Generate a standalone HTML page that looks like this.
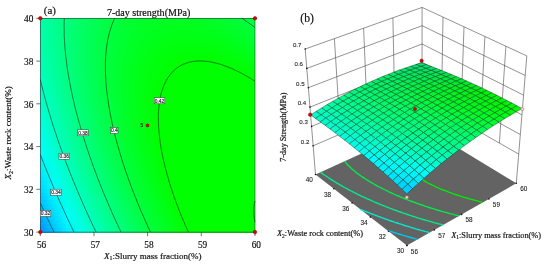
<!DOCTYPE html>
<html><head><meta charset="utf-8"><title>7-day strength response surface</title>
<style>
html,body{margin:0;padding:0;background:#fff;}
body{width:550px;height:269px;overflow:hidden;}
svg{display:block;}
.s{font-family:"Liberation Serif","Times New Roman",serif;fill:#111;stroke:#111;stroke-width:0.18px;}
.a{font-family:"Liberation Sans",Arial,sans-serif;}
</style></head><body>
<svg width="550" height="269" viewBox="0 0 550 269">
<rect width="550" height="269" fill="#fff"/>
<defs>
<linearGradient id="g0" x1="0" x2="1" y1="0" y2="0"><stop offset="0.0000" stop-color="#00ffab"/><stop offset="0.0625" stop-color="#00ff92"/><stop offset="0.1250" stop-color="#00ff7b"/><stop offset="0.1875" stop-color="#00ff67"/><stop offset="0.2500" stop-color="#00ff55"/><stop offset="0.3125" stop-color="#00ff46"/><stop offset="0.3750" stop-color="#00ff39"/><stop offset="0.4375" stop-color="#00ff30"/><stop offset="0.5000" stop-color="#00ff28"/><stop offset="0.5625" stop-color="#00ff23"/><stop offset="0.6250" stop-color="#00ff21"/><stop offset="0.6875" stop-color="#00ff22"/><stop offset="0.7500" stop-color="#00ff25"/><stop offset="0.8125" stop-color="#00ff2a"/><stop offset="0.8750" stop-color="#00ff32"/><stop offset="0.9375" stop-color="#00ff3d"/><stop offset="1.0000" stop-color="#00ff4a"/></linearGradient>
<linearGradient id="g1" x1="0" x2="1" y1="0" y2="0"><stop offset="0.0000" stop-color="#00ffab"/><stop offset="0.0625" stop-color="#00ff92"/><stop offset="0.1250" stop-color="#00ff7b"/><stop offset="0.1875" stop-color="#00ff66"/><stop offset="0.2500" stop-color="#00ff54"/><stop offset="0.3125" stop-color="#00ff45"/><stop offset="0.3750" stop-color="#00ff38"/><stop offset="0.4375" stop-color="#00ff2d"/><stop offset="0.5000" stop-color="#00ff26"/><stop offset="0.5625" stop-color="#00ff21"/><stop offset="0.6250" stop-color="#00ff1e"/><stop offset="0.6875" stop-color="#00ff1e"/><stop offset="0.7500" stop-color="#00ff20"/><stop offset="0.8125" stop-color="#00ff26"/><stop offset="0.8750" stop-color="#00ff2d"/><stop offset="0.9375" stop-color="#00ff38"/><stop offset="1.0000" stop-color="#00ff44"/></linearGradient>
<linearGradient id="g2" x1="0" x2="1" y1="0" y2="0"><stop offset="0.0000" stop-color="#00ffac"/><stop offset="0.0625" stop-color="#00ff92"/><stop offset="0.1250" stop-color="#00ff7a"/><stop offset="0.1875" stop-color="#00ff65"/><stop offset="0.2500" stop-color="#00ff53"/><stop offset="0.3125" stop-color="#00ff43"/><stop offset="0.3750" stop-color="#00ff36"/><stop offset="0.4375" stop-color="#00ff2b"/><stop offset="0.5000" stop-color="#00ff23"/><stop offset="0.5625" stop-color="#00ff1e"/><stop offset="0.6250" stop-color="#00ff1b"/><stop offset="0.6875" stop-color="#00ff1a"/><stop offset="0.7500" stop-color="#00ff1c"/><stop offset="0.8125" stop-color="#00ff21"/><stop offset="0.8750" stop-color="#00ff28"/><stop offset="0.9375" stop-color="#00ff32"/><stop offset="1.0000" stop-color="#00ff3f"/></linearGradient>
<linearGradient id="g3" x1="0" x2="1" y1="0" y2="0"><stop offset="0.0000" stop-color="#00ffad"/><stop offset="0.0625" stop-color="#00ff92"/><stop offset="0.1250" stop-color="#00ff7a"/><stop offset="0.1875" stop-color="#00ff65"/><stop offset="0.2500" stop-color="#00ff52"/><stop offset="0.3125" stop-color="#00ff42"/><stop offset="0.3750" stop-color="#00ff34"/><stop offset="0.4375" stop-color="#00ff29"/><stop offset="0.5000" stop-color="#00ff21"/><stop offset="0.5625" stop-color="#00ff1b"/><stop offset="0.6250" stop-color="#00ff18"/><stop offset="0.6875" stop-color="#00ff17"/><stop offset="0.7500" stop-color="#00ff19"/><stop offset="0.8125" stop-color="#00ff1d"/><stop offset="0.8750" stop-color="#00ff24"/><stop offset="0.9375" stop-color="#00ff2d"/><stop offset="1.0000" stop-color="#00ff39"/></linearGradient>
<linearGradient id="g4" x1="0" x2="1" y1="0" y2="0"><stop offset="0.0000" stop-color="#00ffae"/><stop offset="0.0625" stop-color="#00ff93"/><stop offset="0.1250" stop-color="#00ff7b"/><stop offset="0.1875" stop-color="#00ff65"/><stop offset="0.2500" stop-color="#00ff52"/><stop offset="0.3125" stop-color="#00ff41"/><stop offset="0.3750" stop-color="#00ff33"/><stop offset="0.4375" stop-color="#00ff28"/><stop offset="0.5000" stop-color="#00ff1f"/><stop offset="0.5625" stop-color="#00ff18"/><stop offset="0.6250" stop-color="#00ff15"/><stop offset="0.6875" stop-color="#00ff13"/><stop offset="0.7500" stop-color="#00ff15"/><stop offset="0.8125" stop-color="#00ff19"/><stop offset="0.8750" stop-color="#00ff1f"/><stop offset="0.9375" stop-color="#00ff28"/><stop offset="1.0000" stop-color="#00ff34"/></linearGradient>
<linearGradient id="g5" x1="0" x2="1" y1="0" y2="0"><stop offset="0.0000" stop-color="#00ffaf"/><stop offset="0.0625" stop-color="#00ff93"/><stop offset="0.1250" stop-color="#00ff7b"/><stop offset="0.1875" stop-color="#00ff65"/><stop offset="0.2500" stop-color="#00ff51"/><stop offset="0.3125" stop-color="#00ff40"/><stop offset="0.3750" stop-color="#00ff32"/><stop offset="0.4375" stop-color="#00ff26"/><stop offset="0.5000" stop-color="#00ff1d"/><stop offset="0.5625" stop-color="#00ff16"/><stop offset="0.6250" stop-color="#00ff12"/><stop offset="0.6875" stop-color="#00ff10"/><stop offset="0.7500" stop-color="#00ff11"/><stop offset="0.8125" stop-color="#00ff15"/><stop offset="0.8750" stop-color="#00ff1b"/><stop offset="0.9375" stop-color="#00ff24"/><stop offset="1.0000" stop-color="#00ff2f"/></linearGradient>
<linearGradient id="g6" x1="0" x2="1" y1="0" y2="0"><stop offset="0.0000" stop-color="#00ffb0"/><stop offset="0.0625" stop-color="#00ff94"/><stop offset="0.1250" stop-color="#00ff7b"/><stop offset="0.1875" stop-color="#00ff65"/><stop offset="0.2500" stop-color="#00ff51"/><stop offset="0.3125" stop-color="#00ff3f"/><stop offset="0.3750" stop-color="#00ff31"/><stop offset="0.4375" stop-color="#00ff24"/><stop offset="0.5000" stop-color="#00ff1b"/><stop offset="0.5625" stop-color="#00ff14"/><stop offset="0.6250" stop-color="#00ff0f"/><stop offset="0.6875" stop-color="#00ff0d"/><stop offset="0.7500" stop-color="#00ff0e"/><stop offset="0.8125" stop-color="#00ff11"/><stop offset="0.8750" stop-color="#00ff17"/><stop offset="0.9375" stop-color="#00ff1f"/><stop offset="1.0000" stop-color="#00ff2a"/></linearGradient>
<linearGradient id="g7" x1="0" x2="1" y1="0" y2="0"><stop offset="0.0000" stop-color="#00ffb1"/><stop offset="0.0625" stop-color="#00ff95"/><stop offset="0.1250" stop-color="#00ff7c"/><stop offset="0.1875" stop-color="#00ff65"/><stop offset="0.2500" stop-color="#00ff50"/><stop offset="0.3125" stop-color="#00ff3f"/><stop offset="0.3750" stop-color="#00ff2f"/><stop offset="0.4375" stop-color="#00ff23"/><stop offset="0.5000" stop-color="#00ff19"/><stop offset="0.5625" stop-color="#00ff11"/><stop offset="0.6250" stop-color="#00ff0c"/><stop offset="0.6875" stop-color="#00ff0a"/><stop offset="0.7500" stop-color="#00ff0a"/><stop offset="0.8125" stop-color="#00ff0d"/><stop offset="0.8750" stop-color="#00ff12"/><stop offset="0.9375" stop-color="#00ff1a"/><stop offset="1.0000" stop-color="#00ff25"/></linearGradient>
<linearGradient id="g8" x1="0" x2="1" y1="0" y2="0"><stop offset="0.0000" stop-color="#00ffb2"/><stop offset="0.0625" stop-color="#00ff96"/><stop offset="0.1250" stop-color="#00ff7c"/><stop offset="0.1875" stop-color="#00ff65"/><stop offset="0.2500" stop-color="#00ff50"/><stop offset="0.3125" stop-color="#00ff3e"/><stop offset="0.3750" stop-color="#00ff2f"/><stop offset="0.4375" stop-color="#00ff22"/><stop offset="0.5000" stop-color="#00ff17"/><stop offset="0.5625" stop-color="#00ff0f"/><stop offset="0.6250" stop-color="#00ff0a"/><stop offset="0.6875" stop-color="#00ff07"/><stop offset="0.7500" stop-color="#00ff07"/><stop offset="0.8125" stop-color="#00ff09"/><stop offset="0.8750" stop-color="#00ff0e"/><stop offset="0.9375" stop-color="#00ff16"/><stop offset="1.0000" stop-color="#00ff20"/></linearGradient>
<linearGradient id="g9" x1="0" x2="1" y1="0" y2="0"><stop offset="0.0000" stop-color="#00ffb4"/><stop offset="0.0625" stop-color="#00ff97"/><stop offset="0.1250" stop-color="#00ff7d"/><stop offset="0.1875" stop-color="#00ff65"/><stop offset="0.2500" stop-color="#00ff50"/><stop offset="0.3125" stop-color="#00ff3e"/><stop offset="0.3750" stop-color="#00ff2e"/><stop offset="0.4375" stop-color="#00ff20"/><stop offset="0.5000" stop-color="#00ff15"/><stop offset="0.5625" stop-color="#00ff0d"/><stop offset="0.6250" stop-color="#00ff08"/><stop offset="0.6875" stop-color="#00ff04"/><stop offset="0.7500" stop-color="#00ff04"/><stop offset="0.8125" stop-color="#00ff06"/><stop offset="0.8750" stop-color="#00ff0a"/><stop offset="0.9375" stop-color="#00ff12"/><stop offset="1.0000" stop-color="#00ff1b"/></linearGradient>
<linearGradient id="g10" x1="0" x2="1" y1="0" y2="0"><stop offset="0.0000" stop-color="#00ffb6"/><stop offset="0.0625" stop-color="#00ff98"/><stop offset="0.1250" stop-color="#00ff7e"/><stop offset="0.1875" stop-color="#00ff66"/><stop offset="0.2500" stop-color="#00ff50"/><stop offset="0.3125" stop-color="#00ff3d"/><stop offset="0.3750" stop-color="#00ff2d"/><stop offset="0.4375" stop-color="#00ff1f"/><stop offset="0.5000" stop-color="#00ff14"/><stop offset="0.5625" stop-color="#00ff0b"/><stop offset="0.6250" stop-color="#00ff05"/><stop offset="0.6875" stop-color="#00ff02"/><stop offset="0.7500" stop-color="#00ff01"/><stop offset="0.8125" stop-color="#00ff02"/><stop offset="0.8750" stop-color="#00ff07"/><stop offset="0.9375" stop-color="#00ff0d"/><stop offset="1.0000" stop-color="#00ff17"/></linearGradient>
<linearGradient id="g11" x1="0" x2="1" y1="0" y2="0"><stop offset="0.0000" stop-color="#00ffb7"/><stop offset="0.0625" stop-color="#00ff9a"/><stop offset="0.1250" stop-color="#00ff7f"/><stop offset="0.1875" stop-color="#00ff66"/><stop offset="0.2500" stop-color="#00ff50"/><stop offset="0.3125" stop-color="#00ff3d"/><stop offset="0.3750" stop-color="#00ff2c"/><stop offset="0.4375" stop-color="#00ff1e"/><stop offset="0.5000" stop-color="#00ff13"/><stop offset="0.5625" stop-color="#00ff0a"/><stop offset="0.6250" stop-color="#00ff03"/><stop offset="0.6875" stop-color="#00ff00"/><stop offset="0.7500" stop-color="#00ff00"/><stop offset="0.8125" stop-color="#00ff00"/><stop offset="0.8750" stop-color="#00ff03"/><stop offset="0.9375" stop-color="#00ff09"/><stop offset="1.0000" stop-color="#00ff12"/></linearGradient>
<linearGradient id="g12" x1="0" x2="1" y1="0" y2="0"><stop offset="0.0000" stop-color="#00ffb9"/><stop offset="0.0625" stop-color="#00ff9b"/><stop offset="0.1250" stop-color="#00ff80"/><stop offset="0.1875" stop-color="#00ff67"/><stop offset="0.2500" stop-color="#00ff51"/><stop offset="0.3125" stop-color="#00ff3d"/><stop offset="0.3750" stop-color="#00ff2c"/><stop offset="0.4375" stop-color="#00ff1d"/><stop offset="0.5000" stop-color="#00ff11"/><stop offset="0.5625" stop-color="#00ff08"/><stop offset="0.6250" stop-color="#00ff01"/><stop offset="0.6875" stop-color="#00ff00"/><stop offset="0.7500" stop-color="#00ff00"/><stop offset="0.8125" stop-color="#00ff00"/><stop offset="0.8750" stop-color="#00ff00"/><stop offset="0.9375" stop-color="#00ff05"/><stop offset="1.0000" stop-color="#00ff0e"/></linearGradient>
<linearGradient id="g13" x1="0" x2="1" y1="0" y2="0"><stop offset="0.0000" stop-color="#00ffbb"/><stop offset="0.0625" stop-color="#00ff9d"/><stop offset="0.1250" stop-color="#00ff81"/><stop offset="0.1875" stop-color="#00ff68"/><stop offset="0.2500" stop-color="#00ff51"/><stop offset="0.3125" stop-color="#00ff3d"/><stop offset="0.3750" stop-color="#00ff2c"/><stop offset="0.4375" stop-color="#00ff1d"/><stop offset="0.5000" stop-color="#00ff10"/><stop offset="0.5625" stop-color="#00ff06"/><stop offset="0.6250" stop-color="#00ff00"/><stop offset="0.6875" stop-color="#00ff00"/><stop offset="0.7500" stop-color="#00ff00"/><stop offset="0.8125" stop-color="#00ff00"/><stop offset="0.8750" stop-color="#00ff00"/><stop offset="0.9375" stop-color="#00ff02"/><stop offset="1.0000" stop-color="#00ff0a"/></linearGradient>
<linearGradient id="g14" x1="0" x2="1" y1="0" y2="0"><stop offset="0.0000" stop-color="#00ffbd"/><stop offset="0.0625" stop-color="#00ff9e"/><stop offset="0.1250" stop-color="#00ff82"/><stop offset="0.1875" stop-color="#00ff69"/><stop offset="0.2500" stop-color="#00ff52"/><stop offset="0.3125" stop-color="#00ff3d"/><stop offset="0.3750" stop-color="#00ff2b"/><stop offset="0.4375" stop-color="#00ff1c"/><stop offset="0.5000" stop-color="#00ff0f"/><stop offset="0.5625" stop-color="#00ff05"/><stop offset="0.6250" stop-color="#00ff00"/><stop offset="0.6875" stop-color="#00ff00"/><stop offset="0.7500" stop-color="#00ff00"/><stop offset="0.8125" stop-color="#00ff00"/><stop offset="0.8750" stop-color="#00ff00"/><stop offset="0.9375" stop-color="#00ff00"/><stop offset="1.0000" stop-color="#00ff06"/></linearGradient>
<linearGradient id="g15" x1="0" x2="1" y1="0" y2="0"><stop offset="0.0000" stop-color="#00ffbf"/><stop offset="0.0625" stop-color="#00ffa0"/><stop offset="0.1250" stop-color="#00ff84"/><stop offset="0.1875" stop-color="#00ff6a"/><stop offset="0.2500" stop-color="#00ff52"/><stop offset="0.3125" stop-color="#00ff3d"/><stop offset="0.3750" stop-color="#00ff2b"/><stop offset="0.4375" stop-color="#00ff1b"/><stop offset="0.5000" stop-color="#00ff0e"/><stop offset="0.5625" stop-color="#00ff04"/><stop offset="0.6250" stop-color="#00ff00"/><stop offset="0.6875" stop-color="#00ff00"/><stop offset="0.7500" stop-color="#00ff00"/><stop offset="0.8125" stop-color="#00ff00"/><stop offset="0.8750" stop-color="#00ff00"/><stop offset="0.9375" stop-color="#00ff00"/><stop offset="1.0000" stop-color="#00ff02"/></linearGradient>
<linearGradient id="g16" x1="0" x2="1" y1="0" y2="0"><stop offset="0.0000" stop-color="#00ffc2"/><stop offset="0.0625" stop-color="#00ffa2"/><stop offset="0.1250" stop-color="#00ff85"/><stop offset="0.1875" stop-color="#00ff6b"/><stop offset="0.2500" stop-color="#00ff53"/><stop offset="0.3125" stop-color="#00ff3e"/><stop offset="0.3750" stop-color="#00ff2b"/><stop offset="0.4375" stop-color="#00ff1b"/><stop offset="0.5000" stop-color="#00ff0d"/><stop offset="0.5625" stop-color="#00ff03"/><stop offset="0.6250" stop-color="#00ff00"/><stop offset="0.6875" stop-color="#00ff00"/><stop offset="0.7500" stop-color="#00ff00"/><stop offset="0.8125" stop-color="#00ff00"/><stop offset="0.8750" stop-color="#00ff00"/><stop offset="0.9375" stop-color="#00ff00"/><stop offset="1.0000" stop-color="#00ff00"/></linearGradient>
<linearGradient id="g17" x1="0" x2="1" y1="0" y2="0"><stop offset="0.0000" stop-color="#00ffc4"/><stop offset="0.0625" stop-color="#00ffa4"/><stop offset="0.1250" stop-color="#00ff87"/><stop offset="0.1875" stop-color="#00ff6c"/><stop offset="0.2500" stop-color="#00ff54"/><stop offset="0.3125" stop-color="#00ff3e"/><stop offset="0.3750" stop-color="#00ff2b"/><stop offset="0.4375" stop-color="#00ff1b"/><stop offset="0.5000" stop-color="#00ff0d"/><stop offset="0.5625" stop-color="#00ff01"/><stop offset="0.6250" stop-color="#00ff00"/><stop offset="0.6875" stop-color="#00ff00"/><stop offset="0.7500" stop-color="#00ff00"/><stop offset="0.8125" stop-color="#00ff00"/><stop offset="0.8750" stop-color="#00ff00"/><stop offset="0.9375" stop-color="#00ff00"/><stop offset="1.0000" stop-color="#00ff00"/></linearGradient>
<linearGradient id="g18" x1="0" x2="1" y1="0" y2="0"><stop offset="0.0000" stop-color="#00ffc7"/><stop offset="0.0625" stop-color="#00ffa6"/><stop offset="0.1250" stop-color="#00ff89"/><stop offset="0.1875" stop-color="#00ff6d"/><stop offset="0.2500" stop-color="#00ff55"/><stop offset="0.3125" stop-color="#00ff3f"/><stop offset="0.3750" stop-color="#00ff2b"/><stop offset="0.4375" stop-color="#00ff1b"/><stop offset="0.5000" stop-color="#00ff0c"/><stop offset="0.5625" stop-color="#00ff01"/><stop offset="0.6250" stop-color="#00ff00"/><stop offset="0.6875" stop-color="#00ff00"/><stop offset="0.7500" stop-color="#00ff00"/><stop offset="0.8125" stop-color="#00ff00"/><stop offset="0.8750" stop-color="#00ff00"/><stop offset="0.9375" stop-color="#00ff00"/><stop offset="1.0000" stop-color="#00ff00"/></linearGradient>
<linearGradient id="g19" x1="0" x2="1" y1="0" y2="0"><stop offset="0.0000" stop-color="#00ffc9"/><stop offset="0.0625" stop-color="#00ffa9"/><stop offset="0.1250" stop-color="#00ff8b"/><stop offset="0.1875" stop-color="#00ff6f"/><stop offset="0.2500" stop-color="#00ff56"/><stop offset="0.3125" stop-color="#00ff40"/><stop offset="0.3750" stop-color="#00ff2c"/><stop offset="0.4375" stop-color="#00ff1b"/><stop offset="0.5000" stop-color="#00ff0c"/><stop offset="0.5625" stop-color="#00ff00"/><stop offset="0.6250" stop-color="#00ff00"/><stop offset="0.6875" stop-color="#00ff00"/><stop offset="0.7500" stop-color="#00ff00"/><stop offset="0.8125" stop-color="#00ff00"/><stop offset="0.8750" stop-color="#00ff00"/><stop offset="0.9375" stop-color="#00ff00"/><stop offset="1.0000" stop-color="#00ff00"/></linearGradient>
<linearGradient id="g20" x1="0" x2="1" y1="0" y2="0"><stop offset="0.0000" stop-color="#00ffcc"/><stop offset="0.0625" stop-color="#00ffab"/><stop offset="0.1250" stop-color="#00ff8d"/><stop offset="0.1875" stop-color="#00ff71"/><stop offset="0.2500" stop-color="#00ff57"/><stop offset="0.3125" stop-color="#00ff40"/><stop offset="0.3750" stop-color="#00ff2c"/><stop offset="0.4375" stop-color="#00ff1b"/><stop offset="0.5000" stop-color="#00ff0c"/><stop offset="0.5625" stop-color="#00ff00"/><stop offset="0.6250" stop-color="#00ff00"/><stop offset="0.6875" stop-color="#00ff00"/><stop offset="0.7500" stop-color="#00ff00"/><stop offset="0.8125" stop-color="#00ff00"/><stop offset="0.8750" stop-color="#00ff00"/><stop offset="0.9375" stop-color="#00ff00"/><stop offset="1.0000" stop-color="#00ff00"/></linearGradient>
<linearGradient id="g21" x1="0" x2="1" y1="0" y2="0"><stop offset="0.0000" stop-color="#00ffcf"/><stop offset="0.0625" stop-color="#00ffae"/><stop offset="0.1250" stop-color="#00ff8f"/><stop offset="0.1875" stop-color="#00ff72"/><stop offset="0.2500" stop-color="#00ff59"/><stop offset="0.3125" stop-color="#00ff41"/><stop offset="0.3750" stop-color="#00ff2d"/><stop offset="0.4375" stop-color="#00ff1b"/><stop offset="0.5000" stop-color="#00ff0b"/><stop offset="0.5625" stop-color="#00ff00"/><stop offset="0.6250" stop-color="#00ff00"/><stop offset="0.6875" stop-color="#00ff00"/><stop offset="0.7500" stop-color="#00ff00"/><stop offset="0.8125" stop-color="#00ff00"/><stop offset="0.8750" stop-color="#00ff00"/><stop offset="0.9375" stop-color="#00ff00"/><stop offset="1.0000" stop-color="#00ff00"/></linearGradient>
<linearGradient id="g22" x1="0" x2="1" y1="0" y2="0"><stop offset="0.0000" stop-color="#00ffd2"/><stop offset="0.0625" stop-color="#00ffb0"/><stop offset="0.1250" stop-color="#00ff91"/><stop offset="0.1875" stop-color="#00ff74"/><stop offset="0.2500" stop-color="#00ff5a"/><stop offset="0.3125" stop-color="#00ff43"/><stop offset="0.3750" stop-color="#00ff2e"/><stop offset="0.4375" stop-color="#00ff1b"/><stop offset="0.5000" stop-color="#00ff0b"/><stop offset="0.5625" stop-color="#00ff00"/><stop offset="0.6250" stop-color="#00ff00"/><stop offset="0.6875" stop-color="#00ff00"/><stop offset="0.7500" stop-color="#00ff00"/><stop offset="0.8125" stop-color="#00ff00"/><stop offset="0.8750" stop-color="#00ff00"/><stop offset="0.9375" stop-color="#00ff00"/><stop offset="1.0000" stop-color="#00ff00"/></linearGradient>
<linearGradient id="g23" x1="0" x2="1" y1="0" y2="0"><stop offset="0.0000" stop-color="#00ffd5"/><stop offset="0.0625" stop-color="#00ffb3"/><stop offset="0.1250" stop-color="#00ff93"/><stop offset="0.1875" stop-color="#00ff76"/><stop offset="0.2500" stop-color="#00ff5c"/><stop offset="0.3125" stop-color="#00ff44"/><stop offset="0.3750" stop-color="#00ff2e"/><stop offset="0.4375" stop-color="#00ff1c"/><stop offset="0.5000" stop-color="#00ff0b"/><stop offset="0.5625" stop-color="#00ff00"/><stop offset="0.6250" stop-color="#00ff00"/><stop offset="0.6875" stop-color="#00ff00"/><stop offset="0.7500" stop-color="#00ff00"/><stop offset="0.8125" stop-color="#00ff00"/><stop offset="0.8750" stop-color="#00ff00"/><stop offset="0.9375" stop-color="#00ff00"/><stop offset="1.0000" stop-color="#00ff00"/></linearGradient>
<linearGradient id="g24" x1="0" x2="1" y1="0" y2="0"><stop offset="0.0000" stop-color="#00ffd8"/><stop offset="0.0625" stop-color="#00ffb6"/><stop offset="0.1250" stop-color="#00ff96"/><stop offset="0.1875" stop-color="#00ff78"/><stop offset="0.2500" stop-color="#00ff5d"/><stop offset="0.3125" stop-color="#00ff45"/><stop offset="0.3750" stop-color="#00ff2f"/><stop offset="0.4375" stop-color="#00ff1c"/><stop offset="0.5000" stop-color="#00ff0b"/><stop offset="0.5625" stop-color="#00ff00"/><stop offset="0.6250" stop-color="#00ff00"/><stop offset="0.6875" stop-color="#00ff00"/><stop offset="0.7500" stop-color="#00ff00"/><stop offset="0.8125" stop-color="#00ff00"/><stop offset="0.8750" stop-color="#00ff00"/><stop offset="0.9375" stop-color="#00ff00"/><stop offset="1.0000" stop-color="#00ff00"/></linearGradient>
<linearGradient id="g25" x1="0" x2="1" y1="0" y2="0"><stop offset="0.0000" stop-color="#00ffdc"/><stop offset="0.0625" stop-color="#00ffb9"/><stop offset="0.1250" stop-color="#00ff98"/><stop offset="0.1875" stop-color="#00ff7a"/><stop offset="0.2500" stop-color="#00ff5f"/><stop offset="0.3125" stop-color="#00ff46"/><stop offset="0.3750" stop-color="#00ff30"/><stop offset="0.4375" stop-color="#00ff1d"/><stop offset="0.5000" stop-color="#00ff0c"/><stop offset="0.5625" stop-color="#00ff00"/><stop offset="0.6250" stop-color="#00ff00"/><stop offset="0.6875" stop-color="#00ff00"/><stop offset="0.7500" stop-color="#00ff00"/><stop offset="0.8125" stop-color="#00ff00"/><stop offset="0.8750" stop-color="#00ff00"/><stop offset="0.9375" stop-color="#00ff00"/><stop offset="1.0000" stop-color="#00ff00"/></linearGradient>
<linearGradient id="g26" x1="0" x2="1" y1="0" y2="0"><stop offset="0.0000" stop-color="#00ffdf"/><stop offset="0.0625" stop-color="#00ffbc"/><stop offset="0.1250" stop-color="#00ff9b"/><stop offset="0.1875" stop-color="#00ff7d"/><stop offset="0.2500" stop-color="#00ff61"/><stop offset="0.3125" stop-color="#00ff48"/><stop offset="0.3750" stop-color="#00ff32"/><stop offset="0.4375" stop-color="#00ff1e"/><stop offset="0.5000" stop-color="#00ff0c"/><stop offset="0.5625" stop-color="#00ff00"/><stop offset="0.6250" stop-color="#00ff00"/><stop offset="0.6875" stop-color="#00ff00"/><stop offset="0.7500" stop-color="#00ff00"/><stop offset="0.8125" stop-color="#00ff00"/><stop offset="0.8750" stop-color="#00ff00"/><stop offset="0.9375" stop-color="#00ff00"/><stop offset="1.0000" stop-color="#00ff00"/></linearGradient>
<linearGradient id="g27" x1="0" x2="1" y1="0" y2="0"><stop offset="0.0000" stop-color="#00ffe3"/><stop offset="0.0625" stop-color="#00ffbf"/><stop offset="0.1250" stop-color="#00ff9e"/><stop offset="0.1875" stop-color="#00ff7f"/><stop offset="0.2500" stop-color="#00ff63"/><stop offset="0.3125" stop-color="#00ff4a"/><stop offset="0.3750" stop-color="#00ff33"/><stop offset="0.4375" stop-color="#00ff1e"/><stop offset="0.5000" stop-color="#00ff0d"/><stop offset="0.5625" stop-color="#00ff00"/><stop offset="0.6250" stop-color="#00ff00"/><stop offset="0.6875" stop-color="#00ff00"/><stop offset="0.7500" stop-color="#00ff00"/><stop offset="0.8125" stop-color="#00ff00"/><stop offset="0.8750" stop-color="#00ff00"/><stop offset="0.9375" stop-color="#00ff00"/><stop offset="1.0000" stop-color="#00ff00"/></linearGradient>
<linearGradient id="g28" x1="0" x2="1" y1="0" y2="0"><stop offset="0.0000" stop-color="#00ffe7"/><stop offset="0.0625" stop-color="#00ffc2"/><stop offset="0.1250" stop-color="#00ffa1"/><stop offset="0.1875" stop-color="#00ff82"/><stop offset="0.2500" stop-color="#00ff65"/><stop offset="0.3125" stop-color="#00ff4c"/><stop offset="0.3750" stop-color="#00ff34"/><stop offset="0.4375" stop-color="#00ff1f"/><stop offset="0.5000" stop-color="#00ff0d"/><stop offset="0.5625" stop-color="#00ff00"/><stop offset="0.6250" stop-color="#00ff00"/><stop offset="0.6875" stop-color="#00ff00"/><stop offset="0.7500" stop-color="#00ff00"/><stop offset="0.8125" stop-color="#00ff00"/><stop offset="0.8750" stop-color="#00ff00"/><stop offset="0.9375" stop-color="#00ff00"/><stop offset="1.0000" stop-color="#00ff00"/></linearGradient>
<linearGradient id="g29" x1="0" x2="1" y1="0" y2="0"><stop offset="0.0000" stop-color="#00ffea"/><stop offset="0.0625" stop-color="#00ffc6"/><stop offset="0.1250" stop-color="#00ffa4"/><stop offset="0.1875" stop-color="#00ff85"/><stop offset="0.2500" stop-color="#00ff68"/><stop offset="0.3125" stop-color="#00ff4d"/><stop offset="0.3750" stop-color="#00ff36"/><stop offset="0.4375" stop-color="#00ff21"/><stop offset="0.5000" stop-color="#00ff0e"/><stop offset="0.5625" stop-color="#00ff00"/><stop offset="0.6250" stop-color="#00ff00"/><stop offset="0.6875" stop-color="#00ff00"/><stop offset="0.7500" stop-color="#00ff00"/><stop offset="0.8125" stop-color="#00ff00"/><stop offset="0.8750" stop-color="#00ff00"/><stop offset="0.9375" stop-color="#00ff00"/><stop offset="1.0000" stop-color="#00ff00"/></linearGradient>
<linearGradient id="g30" x1="0" x2="1" y1="0" y2="0"><stop offset="0.0000" stop-color="#00ffee"/><stop offset="0.0625" stop-color="#00ffc9"/><stop offset="0.1250" stop-color="#00ffa7"/><stop offset="0.1875" stop-color="#00ff87"/><stop offset="0.2500" stop-color="#00ff6a"/><stop offset="0.3125" stop-color="#00ff4f"/><stop offset="0.3750" stop-color="#00ff37"/><stop offset="0.4375" stop-color="#00ff22"/><stop offset="0.5000" stop-color="#00ff0f"/><stop offset="0.5625" stop-color="#00ff00"/><stop offset="0.6250" stop-color="#00ff00"/><stop offset="0.6875" stop-color="#00ff00"/><stop offset="0.7500" stop-color="#00ff00"/><stop offset="0.8125" stop-color="#00ff00"/><stop offset="0.8750" stop-color="#00ff00"/><stop offset="0.9375" stop-color="#00ff00"/><stop offset="1.0000" stop-color="#00ff00"/></linearGradient>
<linearGradient id="g31" x1="0" x2="1" y1="0" y2="0"><stop offset="0.0000" stop-color="#00fff2"/><stop offset="0.0625" stop-color="#00ffcd"/><stop offset="0.1250" stop-color="#00ffaa"/><stop offset="0.1875" stop-color="#00ff8a"/><stop offset="0.2500" stop-color="#00ff6d"/><stop offset="0.3125" stop-color="#00ff52"/><stop offset="0.3750" stop-color="#00ff39"/><stop offset="0.4375" stop-color="#00ff23"/><stop offset="0.5000" stop-color="#00ff10"/><stop offset="0.5625" stop-color="#00ff00"/><stop offset="0.6250" stop-color="#00ff00"/><stop offset="0.6875" stop-color="#00ff00"/><stop offset="0.7500" stop-color="#00ff00"/><stop offset="0.8125" stop-color="#00ff00"/><stop offset="0.8750" stop-color="#00ff00"/><stop offset="0.9375" stop-color="#00ff00"/><stop offset="1.0000" stop-color="#00ff00"/></linearGradient>
<linearGradient id="g32" x1="0" x2="1" y1="0" y2="0"><stop offset="0.0000" stop-color="#00fff7"/><stop offset="0.0625" stop-color="#00ffd1"/><stop offset="0.1250" stop-color="#00ffae"/><stop offset="0.1875" stop-color="#00ff8d"/><stop offset="0.2500" stop-color="#00ff6f"/><stop offset="0.3125" stop-color="#00ff54"/><stop offset="0.3750" stop-color="#00ff3b"/><stop offset="0.4375" stop-color="#00ff25"/><stop offset="0.5000" stop-color="#00ff11"/><stop offset="0.5625" stop-color="#00ff00"/><stop offset="0.6250" stop-color="#00ff00"/><stop offset="0.6875" stop-color="#00ff00"/><stop offset="0.7500" stop-color="#00ff00"/><stop offset="0.8125" stop-color="#00ff00"/><stop offset="0.8750" stop-color="#00ff00"/><stop offset="0.9375" stop-color="#00ff00"/><stop offset="1.0000" stop-color="#00ff00"/></linearGradient>
<linearGradient id="g33" x1="0" x2="1" y1="0" y2="0"><stop offset="0.0000" stop-color="#00fffb"/><stop offset="0.0625" stop-color="#00ffd5"/><stop offset="0.1250" stop-color="#00ffb1"/><stop offset="0.1875" stop-color="#00ff90"/><stop offset="0.2500" stop-color="#00ff72"/><stop offset="0.3125" stop-color="#00ff56"/><stop offset="0.3750" stop-color="#00ff3d"/><stop offset="0.4375" stop-color="#00ff26"/><stop offset="0.5000" stop-color="#00ff12"/><stop offset="0.5625" stop-color="#00ff01"/><stop offset="0.6250" stop-color="#00ff00"/><stop offset="0.6875" stop-color="#00ff00"/><stop offset="0.7500" stop-color="#00ff00"/><stop offset="0.8125" stop-color="#00ff00"/><stop offset="0.8750" stop-color="#00ff00"/><stop offset="0.9375" stop-color="#00ff00"/><stop offset="1.0000" stop-color="#00ff00"/></linearGradient>
<linearGradient id="g34" x1="0" x2="1" y1="0" y2="0"><stop offset="0.0000" stop-color="#00ffff"/><stop offset="0.0625" stop-color="#00ffd9"/><stop offset="0.1250" stop-color="#00ffb5"/><stop offset="0.1875" stop-color="#00ff94"/><stop offset="0.2500" stop-color="#00ff75"/><stop offset="0.3125" stop-color="#00ff59"/><stop offset="0.3750" stop-color="#00ff3f"/><stop offset="0.4375" stop-color="#00ff28"/><stop offset="0.5000" stop-color="#00ff14"/><stop offset="0.5625" stop-color="#00ff02"/><stop offset="0.6250" stop-color="#00ff00"/><stop offset="0.6875" stop-color="#00ff00"/><stop offset="0.7500" stop-color="#00ff00"/><stop offset="0.8125" stop-color="#00ff00"/><stop offset="0.8750" stop-color="#00ff00"/><stop offset="0.9375" stop-color="#00ff00"/><stop offset="1.0000" stop-color="#00ff00"/></linearGradient>
<linearGradient id="g35" x1="0" x2="1" y1="0" y2="0"><stop offset="0.0000" stop-color="#00faff"/><stop offset="0.0625" stop-color="#00ffdd"/><stop offset="0.1250" stop-color="#00ffb9"/><stop offset="0.1875" stop-color="#00ff97"/><stop offset="0.2500" stop-color="#00ff78"/><stop offset="0.3125" stop-color="#00ff5b"/><stop offset="0.3750" stop-color="#00ff41"/><stop offset="0.4375" stop-color="#00ff2a"/><stop offset="0.5000" stop-color="#00ff15"/><stop offset="0.5625" stop-color="#00ff03"/><stop offset="0.6250" stop-color="#00ff00"/><stop offset="0.6875" stop-color="#00ff00"/><stop offset="0.7500" stop-color="#00ff00"/><stop offset="0.8125" stop-color="#00ff00"/><stop offset="0.8750" stop-color="#00ff00"/><stop offset="0.9375" stop-color="#00ff00"/><stop offset="1.0000" stop-color="#00ff00"/></linearGradient>
<linearGradient id="g36" x1="0" x2="1" y1="0" y2="0"><stop offset="0.0000" stop-color="#00f5ff"/><stop offset="0.0625" stop-color="#00ffe1"/><stop offset="0.1250" stop-color="#00ffbd"/><stop offset="0.1875" stop-color="#00ff9b"/><stop offset="0.2500" stop-color="#00ff7b"/><stop offset="0.3125" stop-color="#00ff5e"/><stop offset="0.3750" stop-color="#00ff44"/><stop offset="0.4375" stop-color="#00ff2c"/><stop offset="0.5000" stop-color="#00ff17"/><stop offset="0.5625" stop-color="#00ff04"/><stop offset="0.6250" stop-color="#00ff00"/><stop offset="0.6875" stop-color="#00ff00"/><stop offset="0.7500" stop-color="#00ff00"/><stop offset="0.8125" stop-color="#00ff00"/><stop offset="0.8750" stop-color="#00ff00"/><stop offset="0.9375" stop-color="#00ff00"/><stop offset="1.0000" stop-color="#00ff00"/></linearGradient>
<linearGradient id="g37" x1="0" x2="1" y1="0" y2="0"><stop offset="0.0000" stop-color="#00f1ff"/><stop offset="0.0625" stop-color="#00ffe6"/><stop offset="0.1250" stop-color="#00ffc1"/><stop offset="0.1875" stop-color="#00ff9e"/><stop offset="0.2500" stop-color="#00ff7e"/><stop offset="0.3125" stop-color="#00ff61"/><stop offset="0.3750" stop-color="#00ff46"/><stop offset="0.4375" stop-color="#00ff2e"/><stop offset="0.5000" stop-color="#00ff18"/><stop offset="0.5625" stop-color="#00ff05"/><stop offset="0.6250" stop-color="#00ff00"/><stop offset="0.6875" stop-color="#00ff00"/><stop offset="0.7500" stop-color="#00ff00"/><stop offset="0.8125" stop-color="#00ff00"/><stop offset="0.8750" stop-color="#00ff00"/><stop offset="0.9375" stop-color="#00ff00"/><stop offset="1.0000" stop-color="#00ff00"/></linearGradient>
<linearGradient id="g38" x1="0" x2="1" y1="0" y2="0"><stop offset="0.0000" stop-color="#00ecff"/><stop offset="0.0625" stop-color="#00ffea"/><stop offset="0.1250" stop-color="#00ffc5"/><stop offset="0.1875" stop-color="#00ffa2"/><stop offset="0.2500" stop-color="#00ff82"/><stop offset="0.3125" stop-color="#00ff64"/><stop offset="0.3750" stop-color="#00ff49"/><stop offset="0.4375" stop-color="#00ff30"/><stop offset="0.5000" stop-color="#00ff1a"/><stop offset="0.5625" stop-color="#00ff07"/><stop offset="0.6250" stop-color="#00ff00"/><stop offset="0.6875" stop-color="#00ff00"/><stop offset="0.7500" stop-color="#00ff00"/><stop offset="0.8125" stop-color="#00ff00"/><stop offset="0.8750" stop-color="#00ff00"/><stop offset="0.9375" stop-color="#00ff00"/><stop offset="1.0000" stop-color="#00ff00"/></linearGradient>
<linearGradient id="g39" x1="0" x2="1" y1="0" y2="0"><stop offset="0.0000" stop-color="#00e7ff"/><stop offset="0.0625" stop-color="#00ffef"/><stop offset="0.1250" stop-color="#00ffc9"/><stop offset="0.1875" stop-color="#00ffa6"/><stop offset="0.2500" stop-color="#00ff85"/><stop offset="0.3125" stop-color="#00ff67"/><stop offset="0.3750" stop-color="#00ff4b"/><stop offset="0.4375" stop-color="#00ff32"/><stop offset="0.5000" stop-color="#00ff1c"/><stop offset="0.5625" stop-color="#00ff08"/><stop offset="0.6250" stop-color="#00ff00"/><stop offset="0.6875" stop-color="#00ff00"/><stop offset="0.7500" stop-color="#00ff00"/><stop offset="0.8125" stop-color="#00ff00"/><stop offset="0.8750" stop-color="#00ff00"/><stop offset="0.9375" stop-color="#00ff00"/><stop offset="1.0000" stop-color="#00ff00"/></linearGradient>
<linearGradient id="g40" x1="0" x2="1" y1="0" y2="0"><stop offset="0.0000" stop-color="#00e1ff"/><stop offset="0.0625" stop-color="#00fff4"/><stop offset="0.1250" stop-color="#00ffce"/><stop offset="0.1875" stop-color="#00ffaa"/><stop offset="0.2500" stop-color="#00ff89"/><stop offset="0.3125" stop-color="#00ff6a"/><stop offset="0.3750" stop-color="#00ff4e"/><stop offset="0.4375" stop-color="#00ff35"/><stop offset="0.5000" stop-color="#00ff1e"/><stop offset="0.5625" stop-color="#00ff0a"/><stop offset="0.6250" stop-color="#00ff00"/><stop offset="0.6875" stop-color="#00ff00"/><stop offset="0.7500" stop-color="#00ff00"/><stop offset="0.8125" stop-color="#00ff00"/><stop offset="0.8750" stop-color="#00ff00"/><stop offset="0.9375" stop-color="#00ff00"/><stop offset="1.0000" stop-color="#00ff00"/></linearGradient>
<linearGradient id="g41" x1="0" x2="1" y1="0" y2="0"><stop offset="0.0000" stop-color="#00dcff"/><stop offset="0.0625" stop-color="#00fff9"/><stop offset="0.1250" stop-color="#00ffd2"/><stop offset="0.1875" stop-color="#00ffae"/><stop offset="0.2500" stop-color="#00ff8d"/><stop offset="0.3125" stop-color="#00ff6e"/><stop offset="0.3750" stop-color="#00ff51"/><stop offset="0.4375" stop-color="#00ff37"/><stop offset="0.5000" stop-color="#00ff20"/><stop offset="0.5625" stop-color="#00ff0c"/><stop offset="0.6250" stop-color="#00ff00"/><stop offset="0.6875" stop-color="#00ff00"/><stop offset="0.7500" stop-color="#00ff00"/><stop offset="0.8125" stop-color="#00ff00"/><stop offset="0.8750" stop-color="#00ff00"/><stop offset="0.9375" stop-color="#00ff00"/><stop offset="1.0000" stop-color="#00ff00"/></linearGradient>
<linearGradient id="g42" x1="0" x2="1" y1="0" y2="0"><stop offset="0.0000" stop-color="#00d7ff"/><stop offset="0.0625" stop-color="#00fffe"/><stop offset="0.1250" stop-color="#00ffd7"/><stop offset="0.1875" stop-color="#00ffb2"/><stop offset="0.2500" stop-color="#00ff90"/><stop offset="0.3125" stop-color="#00ff71"/><stop offset="0.3750" stop-color="#00ff54"/><stop offset="0.4375" stop-color="#00ff3a"/><stop offset="0.5000" stop-color="#00ff23"/><stop offset="0.5625" stop-color="#00ff0e"/><stop offset="0.6250" stop-color="#00ff00"/><stop offset="0.6875" stop-color="#00ff00"/><stop offset="0.7500" stop-color="#00ff00"/><stop offset="0.8125" stop-color="#00ff00"/><stop offset="0.8750" stop-color="#00ff00"/><stop offset="0.9375" stop-color="#00ff00"/><stop offset="1.0000" stop-color="#00ff00"/></linearGradient>
<linearGradient id="g43" x1="0" x2="1" y1="0" y2="0"><stop offset="0.0000" stop-color="#00d1ff"/><stop offset="0.0625" stop-color="#00fbff"/><stop offset="0.1250" stop-color="#00ffdb"/><stop offset="0.1875" stop-color="#00ffb7"/><stop offset="0.2500" stop-color="#00ff94"/><stop offset="0.3125" stop-color="#00ff75"/><stop offset="0.3750" stop-color="#00ff57"/><stop offset="0.4375" stop-color="#00ff3d"/><stop offset="0.5000" stop-color="#00ff25"/><stop offset="0.5625" stop-color="#00ff10"/><stop offset="0.6250" stop-color="#00ff00"/><stop offset="0.6875" stop-color="#00ff00"/><stop offset="0.7500" stop-color="#00ff00"/><stop offset="0.8125" stop-color="#00ff00"/><stop offset="0.8750" stop-color="#00ff00"/><stop offset="0.9375" stop-color="#00ff00"/><stop offset="1.0000" stop-color="#00ff00"/></linearGradient>
<linearGradient id="g44" x1="0" x2="1" y1="0" y2="0"><stop offset="0.0000" stop-color="#00ccff"/><stop offset="0.0625" stop-color="#00f6ff"/><stop offset="0.1250" stop-color="#00ffe0"/><stop offset="0.1875" stop-color="#00ffbb"/><stop offset="0.2500" stop-color="#00ff98"/><stop offset="0.3125" stop-color="#00ff78"/><stop offset="0.3750" stop-color="#00ff5b"/><stop offset="0.4375" stop-color="#00ff40"/><stop offset="0.5000" stop-color="#00ff27"/><stop offset="0.5625" stop-color="#00ff12"/><stop offset="0.6250" stop-color="#00ff00"/><stop offset="0.6875" stop-color="#00ff00"/><stop offset="0.7500" stop-color="#00ff00"/><stop offset="0.8125" stop-color="#00ff00"/><stop offset="0.8750" stop-color="#00ff00"/><stop offset="0.9375" stop-color="#00ff00"/><stop offset="1.0000" stop-color="#00ff00"/></linearGradient>
<linearGradient id="g45" x1="0" x2="1" y1="0" y2="0"><stop offset="0.0000" stop-color="#00c6ff"/><stop offset="0.0625" stop-color="#00f1ff"/><stop offset="0.1250" stop-color="#00ffe5"/><stop offset="0.1875" stop-color="#00ffc0"/><stop offset="0.2500" stop-color="#00ff9d"/><stop offset="0.3125" stop-color="#00ff7c"/><stop offset="0.3750" stop-color="#00ff5e"/><stop offset="0.4375" stop-color="#00ff43"/><stop offset="0.5000" stop-color="#00ff2a"/><stop offset="0.5625" stop-color="#00ff14"/><stop offset="0.6250" stop-color="#00ff00"/><stop offset="0.6875" stop-color="#00ff00"/><stop offset="0.7500" stop-color="#00ff00"/><stop offset="0.8125" stop-color="#00ff00"/><stop offset="0.8750" stop-color="#00ff00"/><stop offset="0.9375" stop-color="#00ff00"/><stop offset="1.0000" stop-color="#00ff00"/></linearGradient>
<linearGradient id="g46" x1="0" x2="1" y1="0" y2="0"><stop offset="0.0000" stop-color="#00c0ff"/><stop offset="0.0625" stop-color="#00ebff"/><stop offset="0.1250" stop-color="#00ffea"/><stop offset="0.1875" stop-color="#00ffc4"/><stop offset="0.2500" stop-color="#00ffa1"/><stop offset="0.3125" stop-color="#00ff80"/><stop offset="0.3750" stop-color="#00ff62"/><stop offset="0.4375" stop-color="#00ff46"/><stop offset="0.5000" stop-color="#00ff2d"/><stop offset="0.5625" stop-color="#00ff16"/><stop offset="0.6250" stop-color="#00ff02"/><stop offset="0.6875" stop-color="#00ff00"/><stop offset="0.7500" stop-color="#00ff00"/><stop offset="0.8125" stop-color="#00ff00"/><stop offset="0.8750" stop-color="#00ff00"/><stop offset="0.9375" stop-color="#00ff00"/><stop offset="1.0000" stop-color="#00ff00"/></linearGradient>
<linearGradient id="g47" x1="0" x2="1" y1="0" y2="0"><stop offset="0.0000" stop-color="#00baff"/><stop offset="0.0625" stop-color="#00e6ff"/><stop offset="0.1250" stop-color="#00ffef"/><stop offset="0.1875" stop-color="#00ffc9"/><stop offset="0.2500" stop-color="#00ffa5"/><stop offset="0.3125" stop-color="#00ff84"/><stop offset="0.3750" stop-color="#00ff65"/><stop offset="0.4375" stop-color="#00ff49"/><stop offset="0.5000" stop-color="#00ff30"/><stop offset="0.5625" stop-color="#00ff19"/><stop offset="0.6250" stop-color="#00ff04"/><stop offset="0.6875" stop-color="#00ff00"/><stop offset="0.7500" stop-color="#00ff00"/><stop offset="0.8125" stop-color="#00ff00"/><stop offset="0.8750" stop-color="#00ff00"/><stop offset="0.9375" stop-color="#00ff00"/><stop offset="1.0000" stop-color="#00ff00"/></linearGradient>
<linearGradient id="g48" x1="0" x2="1" y1="0" y2="0"><stop offset="0.0000" stop-color="#00b4ff"/><stop offset="0.0625" stop-color="#00e0ff"/><stop offset="0.1250" stop-color="#00fff5"/><stop offset="0.1875" stop-color="#00ffce"/><stop offset="0.2500" stop-color="#00ffaa"/><stop offset="0.3125" stop-color="#00ff88"/><stop offset="0.3750" stop-color="#00ff69"/><stop offset="0.4375" stop-color="#00ff4d"/><stop offset="0.5000" stop-color="#00ff33"/><stop offset="0.5625" stop-color="#00ff1b"/><stop offset="0.6250" stop-color="#00ff07"/><stop offset="0.6875" stop-color="#00ff00"/><stop offset="0.7500" stop-color="#00ff00"/><stop offset="0.8125" stop-color="#00ff00"/><stop offset="0.8750" stop-color="#00ff00"/><stop offset="0.9375" stop-color="#00ff00"/><stop offset="1.0000" stop-color="#00ff00"/></linearGradient>
<linearGradient id="g49" x1="0" x2="1" y1="0" y2="0"><stop offset="0.0000" stop-color="#00aeff"/><stop offset="0.0625" stop-color="#00daff"/><stop offset="0.1250" stop-color="#00fffa"/><stop offset="0.1875" stop-color="#00ffd3"/><stop offset="0.2500" stop-color="#00ffaf"/><stop offset="0.3125" stop-color="#00ff8c"/><stop offset="0.3750" stop-color="#00ff6d"/><stop offset="0.4375" stop-color="#00ff50"/><stop offset="0.5000" stop-color="#00ff36"/><stop offset="0.5625" stop-color="#00ff1e"/><stop offset="0.6250" stop-color="#00ff09"/><stop offset="0.6875" stop-color="#00ff00"/><stop offset="0.7500" stop-color="#00ff00"/><stop offset="0.8125" stop-color="#00ff00"/><stop offset="0.8750" stop-color="#00ff00"/><stop offset="0.9375" stop-color="#00ff00"/><stop offset="1.0000" stop-color="#00ff00"/></linearGradient>
<linearGradient id="g50" x1="0" x2="1" y1="0" y2="0"><stop offset="0.0000" stop-color="#00a7ff"/><stop offset="0.0625" stop-color="#00d4ff"/><stop offset="0.1250" stop-color="#00feff"/><stop offset="0.1875" stop-color="#00ffd8"/><stop offset="0.2500" stop-color="#00ffb3"/><stop offset="0.3125" stop-color="#00ff91"/><stop offset="0.3750" stop-color="#00ff71"/><stop offset="0.4375" stop-color="#00ff54"/><stop offset="0.5000" stop-color="#00ff39"/><stop offset="0.5625" stop-color="#00ff21"/><stop offset="0.6250" stop-color="#00ff0b"/><stop offset="0.6875" stop-color="#00ff00"/><stop offset="0.7500" stop-color="#00ff00"/><stop offset="0.8125" stop-color="#00ff00"/><stop offset="0.8750" stop-color="#00ff00"/><stop offset="0.9375" stop-color="#00ff00"/><stop offset="1.0000" stop-color="#00ff00"/></linearGradient>
<linearGradient id="g51" x1="0" x2="1" y1="0" y2="0"><stop offset="0.0000" stop-color="#00a1ff"/><stop offset="0.0625" stop-color="#00ceff"/><stop offset="0.1250" stop-color="#00f9ff"/><stop offset="0.1875" stop-color="#00ffde"/><stop offset="0.2500" stop-color="#00ffb8"/><stop offset="0.3125" stop-color="#00ff95"/><stop offset="0.3750" stop-color="#00ff75"/><stop offset="0.4375" stop-color="#00ff58"/><stop offset="0.5000" stop-color="#00ff3c"/><stop offset="0.5625" stop-color="#00ff24"/><stop offset="0.6250" stop-color="#00ff0e"/><stop offset="0.6875" stop-color="#00ff00"/><stop offset="0.7500" stop-color="#00ff00"/><stop offset="0.8125" stop-color="#00ff00"/><stop offset="0.8750" stop-color="#00ff00"/><stop offset="0.9375" stop-color="#00ff00"/><stop offset="1.0000" stop-color="#00ff00"/></linearGradient>
<linearGradient id="g52" x1="0" x2="1" y1="0" y2="0"><stop offset="0.0000" stop-color="#009aff"/><stop offset="0.0625" stop-color="#00c8ff"/><stop offset="0.1250" stop-color="#00f3ff"/><stop offset="0.1875" stop-color="#00ffe3"/><stop offset="0.2500" stop-color="#00ffbd"/><stop offset="0.3125" stop-color="#00ff9a"/><stop offset="0.3750" stop-color="#00ff79"/><stop offset="0.4375" stop-color="#00ff5b"/><stop offset="0.5000" stop-color="#00ff40"/><stop offset="0.5625" stop-color="#00ff27"/><stop offset="0.6250" stop-color="#00ff11"/><stop offset="0.6875" stop-color="#00ff00"/><stop offset="0.7500" stop-color="#00ff00"/><stop offset="0.8125" stop-color="#00ff00"/><stop offset="0.8750" stop-color="#00ff00"/><stop offset="0.9375" stop-color="#00ff00"/><stop offset="1.0000" stop-color="#00ff00"/></linearGradient>
<linearGradient id="g53" x1="0" x2="1" y1="0" y2="0"><stop offset="0.0000" stop-color="#0094ff"/><stop offset="0.0625" stop-color="#00c2ff"/><stop offset="0.1250" stop-color="#00edff"/><stop offset="0.1875" stop-color="#00ffe8"/><stop offset="0.2500" stop-color="#00ffc2"/><stop offset="0.3125" stop-color="#00ff9f"/><stop offset="0.3750" stop-color="#00ff7e"/><stop offset="0.4375" stop-color="#00ff5f"/><stop offset="0.5000" stop-color="#00ff44"/><stop offset="0.5625" stop-color="#00ff2a"/><stop offset="0.6250" stop-color="#00ff14"/><stop offset="0.6875" stop-color="#00ff00"/><stop offset="0.7500" stop-color="#00ff00"/><stop offset="0.8125" stop-color="#00ff00"/><stop offset="0.8750" stop-color="#00ff00"/><stop offset="0.9375" stop-color="#00ff00"/><stop offset="1.0000" stop-color="#00ff00"/></linearGradient>
</defs>
<g shape-rendering="crispEdges"><rect x="40.3" y="18.30" width="214.7" height="4.46" fill="url(#g0)"/><rect x="40.3" y="22.26" width="214.7" height="4.46" fill="url(#g1)"/><rect x="40.3" y="26.22" width="214.7" height="4.46" fill="url(#g2)"/><rect x="40.3" y="30.18" width="214.7" height="4.46" fill="url(#g3)"/><rect x="40.3" y="34.14" width="214.7" height="4.46" fill="url(#g4)"/><rect x="40.3" y="38.10" width="214.7" height="4.46" fill="url(#g5)"/><rect x="40.3" y="42.06" width="214.7" height="4.46" fill="url(#g6)"/><rect x="40.3" y="46.01" width="214.7" height="4.46" fill="url(#g7)"/><rect x="40.3" y="49.97" width="214.7" height="4.46" fill="url(#g8)"/><rect x="40.3" y="53.93" width="214.7" height="4.46" fill="url(#g9)"/><rect x="40.3" y="57.89" width="214.7" height="4.46" fill="url(#g10)"/><rect x="40.3" y="61.85" width="214.7" height="4.46" fill="url(#g11)"/><rect x="40.3" y="65.81" width="214.7" height="4.46" fill="url(#g12)"/><rect x="40.3" y="69.77" width="214.7" height="4.46" fill="url(#g13)"/><rect x="40.3" y="73.73" width="214.7" height="4.46" fill="url(#g14)"/><rect x="40.3" y="77.69" width="214.7" height="4.46" fill="url(#g15)"/><rect x="40.3" y="81.65" width="214.7" height="4.46" fill="url(#g16)"/><rect x="40.3" y="85.61" width="214.7" height="4.46" fill="url(#g17)"/><rect x="40.3" y="89.57" width="214.7" height="4.46" fill="url(#g18)"/><rect x="40.3" y="93.53" width="214.7" height="4.46" fill="url(#g19)"/><rect x="40.3" y="97.49" width="214.7" height="4.46" fill="url(#g20)"/><rect x="40.3" y="101.44" width="214.7" height="4.46" fill="url(#g21)"/><rect x="40.3" y="105.40" width="214.7" height="4.46" fill="url(#g22)"/><rect x="40.3" y="109.36" width="214.7" height="4.46" fill="url(#g23)"/><rect x="40.3" y="113.32" width="214.7" height="4.46" fill="url(#g24)"/><rect x="40.3" y="117.28" width="214.7" height="4.46" fill="url(#g25)"/><rect x="40.3" y="121.24" width="214.7" height="4.46" fill="url(#g26)"/><rect x="40.3" y="125.20" width="214.7" height="4.46" fill="url(#g27)"/><rect x="40.3" y="129.16" width="214.7" height="4.46" fill="url(#g28)"/><rect x="40.3" y="133.12" width="214.7" height="4.46" fill="url(#g29)"/><rect x="40.3" y="137.08" width="214.7" height="4.46" fill="url(#g30)"/><rect x="40.3" y="141.04" width="214.7" height="4.46" fill="url(#g31)"/><rect x="40.3" y="145.00" width="214.7" height="4.46" fill="url(#g32)"/><rect x="40.3" y="148.96" width="214.7" height="4.46" fill="url(#g33)"/><rect x="40.3" y="152.91" width="214.7" height="4.46" fill="url(#g34)"/><rect x="40.3" y="156.87" width="214.7" height="4.46" fill="url(#g35)"/><rect x="40.3" y="160.83" width="214.7" height="4.46" fill="url(#g36)"/><rect x="40.3" y="164.79" width="214.7" height="4.46" fill="url(#g37)"/><rect x="40.3" y="168.75" width="214.7" height="4.46" fill="url(#g38)"/><rect x="40.3" y="172.71" width="214.7" height="4.46" fill="url(#g39)"/><rect x="40.3" y="176.67" width="214.7" height="4.46" fill="url(#g40)"/><rect x="40.3" y="180.63" width="214.7" height="4.46" fill="url(#g41)"/><rect x="40.3" y="184.59" width="214.7" height="4.46" fill="url(#g42)"/><rect x="40.3" y="188.55" width="214.7" height="4.46" fill="url(#g43)"/><rect x="40.3" y="192.51" width="214.7" height="4.46" fill="url(#g44)"/><rect x="40.3" y="196.47" width="214.7" height="4.46" fill="url(#g45)"/><rect x="40.3" y="200.43" width="214.7" height="4.46" fill="url(#g46)"/><rect x="40.3" y="204.39" width="214.7" height="4.46" fill="url(#g47)"/><rect x="40.3" y="208.34" width="214.7" height="4.46" fill="url(#g48)"/><rect x="40.3" y="212.30" width="214.7" height="4.46" fill="url(#g49)"/><rect x="40.3" y="216.26" width="214.7" height="4.46" fill="url(#g50)"/><rect x="40.3" y="220.22" width="214.7" height="4.46" fill="url(#g51)"/><rect x="40.3" y="224.18" width="214.7" height="4.46" fill="url(#g52)"/><rect x="40.3" y="228.14" width="214.7" height="4.46" fill="url(#g53)"/></g>
<path d="M40.3,202.9 L41.4,205.3 L42.4,207.5 L43.4,209.7 L44.3,211.8 L45.3,213.9 L46.3,216.1 L47.3,218.2 L48.3,220.3 L49.4,222.5 L50.4,224.6 L51.4,226.8 L52.4,228.9 L53.5,231.0 L54.0,232.1" fill="none" stroke="#083a12" stroke-width="0.75" stroke-opacity="0.85"/>
<path d="M40.3,154.5 L41.4,157.3 L42.2,159.4 L43.0,161.5 L43.9,163.7 L44.7,165.8 L45.7,168.2 L46.7,170.8 L47.7,173.3 L48.6,175.4 L49.5,177.6 L50.4,179.7 L51.3,181.9 L52.2,184.0 L53.2,186.4 L54.3,188.9 L55.3,191.4 L56.3,193.6 L57.2,195.8 L58.2,197.9 L59.1,200.0 L60.1,202.2 L61.0,204.3 L62.0,206.4 L63.0,208.6 L63.9,210.7 L65.0,213.0 L66.1,215.4 L67.1,217.7 L68.2,220.0 L69.3,222.3 L70.4,224.5 L71.4,226.8 L72.4,228.9 L73.5,231.0 L74.0,232.1" fill="none" stroke="#083a12" stroke-width="0.75" stroke-opacity="0.85"/>
<path d="M40.3,79.5 L41.0,82.4 L41.5,84.6 L42.3,87.8 L42.9,89.9 L43.5,92.5 L44.2,95.3 L44.8,97.4 L45.7,100.5 L46.3,102.8 L46.9,104.9 L47.8,108.1 L48.4,110.2 L49.1,112.4 L50.0,115.3 L50.7,117.7 L51.3,119.9 L52.1,122.3 L53.0,125.2 L53.7,127.3 L54.4,129.5 L55.3,132.3 L56.2,134.8 L56.9,137.0 L57.6,139.1 L58.5,141.8 L59.5,144.4 L60.2,146.6 L61.0,148.7 L61.8,150.9 L62.8,153.8 L63.7,156.2 L64.5,158.3 L65.3,160.5 L66.1,162.6 L67.1,165.3 L68.2,168.0 L69.0,170.1 L69.8,172.2 L70.7,174.4 L71.5,176.5 L72.5,178.9 L73.6,181.6 L74.6,184.0 L75.5,186.1 L76.4,188.3 L77.3,190.4 L78.2,192.5 L79.1,194.7 L80.0,196.9 L81.1,199.4 L82.2,201.9 L83.2,204.3 L84.2,206.4 L85.1,208.6 L86.1,210.7 L87.1,212.9 L88.0,215.0 L89.0,217.1 L90.0,219.3 L91.0,221.4 L92.0,223.5 L93.0,225.7 L94.0,227.8 L95.0,230.0 L96.1,232.1" fill="none" stroke="#083a12" stroke-width="0.75" stroke-opacity="0.85"/>
<path d="M64.3,18.3 L64.2,21.5 L64.1,24.7 L64.1,27.9 L64.2,31.1 L64.2,34.3 L64.3,37.5 L64.5,40.7 L64.7,44.0 L64.9,47.2 L65.1,49.3 L65.4,52.5 L65.7,55.7 L66.1,58.6 L66.4,61.1 L66.8,64.3 L67.1,66.9 L67.5,69.6 L68.0,72.8 L68.4,75.0 L68.9,78.2 L69.3,80.3 L69.9,83.5 L70.4,85.9 L71.0,88.9 L71.4,91.2 L72.1,94.2 L72.5,96.3 L73.3,99.5 L73.8,101.7 L74.5,104.9 L75.0,107.0 L75.7,109.8 L76.4,112.4 L76.9,114.5 L77.8,117.7 L78.4,119.9 L79.0,122.0 L79.9,125.2 L80.5,127.3 L81.1,129.5 L82.1,132.7 L82.7,134.8 L83.4,137.0 L84.3,139.9 L85.1,142.3 L85.8,144.4 L86.5,146.6 L87.5,149.8 L88.2,151.9 L89.0,154.1 L89.7,156.2 L90.8,159.2 L91.6,161.5 L92.3,163.7 L93.1,165.8 L94.0,168.1 L95.0,171.0 L95.9,173.3 L96.7,175.4 L97.5,177.6 L98.4,179.7 L99.3,182.2 L100.4,185.0 L101.3,187.2 L102.2,189.3 L103.0,191.5 L103.9,193.6 L104.8,195.8 L105.8,198.1 L106.9,200.6 L107.9,203.1 L108.9,205.4 L109.8,207.5 L110.8,209.7 L111.7,211.8 L112.6,213.9 L113.6,216.1 L114.6,218.2 L115.5,220.3 L116.5,222.5 L117.6,224.8 L118.7,227.1 L119.7,229.4 L120.8,231.6 L121.0,232.1" fill="none" stroke="#083a12" stroke-width="0.75" stroke-opacity="0.85"/>
<path d="M255.0,27.5 L252.9,25.9 L251.2,24.7 L249.6,23.6 L247.5,22.1 L245.3,20.6 L243.5,19.4 L241.9,18.3 L241.9,18.3" fill="none" stroke="#083a12" stroke-width="0.75" stroke-opacity="0.85"/>
<path d="M114.6,18.3 L113.7,20.4 L112.8,22.6 L111.9,24.7 L111.2,26.9 L110.2,30.1 L109.5,32.2 L109.0,34.3 L108.3,37.5 L107.8,39.7 L107.2,42.9 L106.9,45.4 L106.5,48.2 L106.1,51.4 L105.9,54.6 L105.7,56.8 L105.5,60.0 L105.4,63.2 L105.4,66.4 L105.4,69.6 L105.5,72.8 L105.6,76.0 L105.8,79.2 L105.9,81.4 L106.2,84.6 L106.4,87.8 L106.8,91.0 L107.0,93.1 L107.4,96.3 L107.9,99.5 L108.2,101.7 L108.7,104.9 L109.0,107.0 L109.6,110.2 L110.1,113.0 L110.6,115.6 L111.2,118.5 L111.7,120.9 L112.2,123.5 L112.8,126.3 L113.3,128.4 L114.1,131.6 L114.6,133.8 L115.4,137.0 L116.0,139.1 L116.6,141.2 L117.4,144.4 L118.0,146.6 L118.7,148.8 L119.6,151.9 L120.2,154.1 L120.9,156.2 L121.9,159.4 L122.5,161.5 L123.2,163.7 L124.0,166.1 L125.0,169.0 L125.7,171.2 L126.5,173.3 L127.3,175.6 L128.3,178.6 L129.1,180.8 L129.9,182.9 L130.7,185.1 L131.5,187.4 L132.6,190.2 L133.5,192.5 L134.4,194.7 L135.2,196.8 L136.1,199.0 L136.9,201.1 L138.0,203.7 L139.1,206.3 L140.0,208.6 L140.9,210.7 L141.8,212.9 L142.8,215.0 L143.7,217.1 L144.6,219.3 L145.6,221.4 L146.6,223.6 L147.6,226.0 L148.7,228.3 L149.8,230.6 L150.5,232.1" fill="none" stroke="#083a12" stroke-width="0.75" stroke-opacity="0.85"/>
<path d="M255.0,81.2 L252.9,79.9 L250.7,78.5 L248.6,77.3 L246.5,76.0 L244.6,75.0 L242.6,73.9 L240.6,72.8 L238.5,71.8 L236.3,70.7 L234.1,69.6 L231.7,68.5 L229.2,67.5 L227.1,66.7 L224.9,65.9 L222.8,65.1 L220.2,64.3 L217.4,63.5 L215.3,62.9 L212.1,62.2 L209.9,61.8 L206.7,61.3 L203.5,61.1 L201.3,61.0 L198.1,61.0 L196.0,61.1 L192.7,61.5 L189.6,62.1 L187.4,62.8 L185.2,63.5 L183.1,64.4 L180.9,65.4 L178.8,66.7 L176.6,68.2 L174.9,69.6 L173.4,71.0 L171.7,72.8 L170.2,74.6 L169.1,76.0 L167.6,78.2 L166.4,80.3 L165.3,82.4 L164.3,84.6 L163.4,86.7 L162.6,88.9 L161.6,92.1 L161.0,94.2 L160.5,96.3 L159.9,99.5 L159.5,102.2 L159.1,104.9 L158.8,108.1 L158.5,111.3 L158.4,114.5 L158.4,116.6 L158.4,119.9 L158.4,122.0 L158.5,125.2 L158.7,128.4 L159.0,131.6 L159.3,134.8 L159.5,137.0 L159.9,140.2 L160.4,143.4 L160.7,145.5 L161.2,148.7 L161.6,150.9 L162.2,154.1 L162.7,156.3 L163.3,159.4 L163.8,161.5 L164.6,164.8 L165.1,166.9 L165.9,170.0 L166.5,172.2 L167.1,174.4 L168.0,177.6 L168.6,179.7 L169.2,181.9 L170.2,184.9 L170.9,187.2 L171.6,189.3 L172.3,191.6 L173.4,194.7 L174.1,196.8 L174.9,199.0 L175.7,201.1 L176.6,203.7 L177.7,206.4 L178.5,208.6 L179.3,210.7 L180.1,212.9 L181.0,215.0 L182.0,217.4 L183.1,220.0 L184.1,222.5 L185.0,224.6 L186.0,226.8 L186.9,228.9 L187.9,231.0 L188.3,232.1" fill="none" stroke="#083a12" stroke-width="0.75" stroke-opacity="0.85"/>
<path d="M255.0,201.2 L254.2,204.3 L253.9,206.4 L253.7,209.7 L253.8,212.9 L253.9,215.0 L254.3,218.2 L254.8,221.4 L255.0,222.2" fill="none" stroke="#083a12" stroke-width="0.75" stroke-opacity="0.85"/>
<rect x="40.3" y="18.3" width="214.7" height="213.79999999999998" fill="none" stroke="#333" stroke-width="0.6"/>
<line x1="40.3" y1="232.1" x2="40.3" y2="236.1" stroke="#333" stroke-width="0.7"/>
<text x="41.6" y="247.7" font-size="9.3" text-anchor="middle" class="s">56</text>
<line x1="94.0" y1="232.1" x2="94.0" y2="236.1" stroke="#333" stroke-width="0.7"/>
<text x="95.3" y="247.7" font-size="9.3" text-anchor="middle" class="s">57</text>
<line x1="147.6" y1="232.1" x2="147.6" y2="236.1" stroke="#333" stroke-width="0.7"/>
<text x="148.9" y="247.7" font-size="9.3" text-anchor="middle" class="s">58</text>
<line x1="201.3" y1="232.1" x2="201.3" y2="236.1" stroke="#333" stroke-width="0.7"/>
<text x="202.6" y="247.7" font-size="9.3" text-anchor="middle" class="s">59</text>
<line x1="255.0" y1="232.1" x2="255.0" y2="236.1" stroke="#333" stroke-width="0.7"/>
<text x="256.3" y="247.7" font-size="9.3" text-anchor="middle" class="s">60</text>
<line x1="36.3" y1="18.3" x2="40.3" y2="18.3" stroke="#333" stroke-width="0.7"/>
<text x="33.3" y="22.1" font-size="9.3" text-anchor="end" class="s">40</text>
<line x1="36.3" y1="61.1" x2="40.3" y2="61.1" stroke="#333" stroke-width="0.7"/>
<text x="33.3" y="64.9" font-size="9.3" text-anchor="end" class="s">38</text>
<line x1="36.3" y1="103.8" x2="40.3" y2="103.8" stroke="#333" stroke-width="0.7"/>
<text x="33.3" y="107.6" font-size="9.3" text-anchor="end" class="s">36</text>
<line x1="36.3" y1="146.6" x2="40.3" y2="146.6" stroke="#333" stroke-width="0.7"/>
<text x="33.3" y="150.4" font-size="9.3" text-anchor="end" class="s">34</text>
<line x1="36.3" y1="189.3" x2="40.3" y2="189.3" stroke="#333" stroke-width="0.7"/>
<text x="33.3" y="193.1" font-size="9.3" text-anchor="end" class="s">32</text>
<line x1="36.3" y1="232.1" x2="40.3" y2="232.1" stroke="#333" stroke-width="0.7"/>
<text x="33.3" y="235.9" font-size="9.3" text-anchor="end" class="s">30</text>
<rect x="40.2" y="210.5" width="10.6" height="6" fill="#fff" stroke="#333" stroke-width="0.5"/>
<text x="45.5" y="215.3" font-size="4.9" text-anchor="middle" class="a" fill="#222" stroke="#222" stroke-width="0.15">0.32</text>
<rect x="50.7" y="189.2" width="10.6" height="6" fill="#fff" stroke="#333" stroke-width="0.5"/>
<text x="56.0" y="194.0" font-size="4.9" text-anchor="middle" class="a" fill="#222" stroke="#222" stroke-width="0.15">0.34</text>
<rect x="58.9" y="153.3" width="10.6" height="6" fill="#fff" stroke="#333" stroke-width="0.5"/>
<text x="64.2" y="158.1" font-size="4.9" text-anchor="middle" class="a" fill="#222" stroke="#222" stroke-width="0.15">0.36</text>
<rect x="77.7" y="129.8" width="10.6" height="6" fill="#fff" stroke="#333" stroke-width="0.5"/>
<text x="83.0" y="134.6" font-size="4.9" text-anchor="middle" class="a" fill="#222" stroke="#222" stroke-width="0.15">0.38</text>
<rect x="110.6" y="127.5" width="7.4" height="6" fill="#fff" stroke="#333" stroke-width="0.5"/>
<text x="114.3" y="132.3" font-size="4.9" text-anchor="middle" class="a" fill="#222" stroke="#222" stroke-width="0.15">0.4</text>
<rect x="154.2" y="97.8" width="10.6" height="6" fill="#fff" stroke="#333" stroke-width="0.5"/>
<text x="159.5" y="102.6" font-size="4.9" text-anchor="middle" class="a" fill="#222" stroke="#222" stroke-width="0.15">0.42</text>
<circle cx="40.3" cy="18.3" r="1.8" fill="#e00000" stroke="#7a0000" stroke-width="0.5"/>
<circle cx="255.0" cy="18.3" r="1.8" fill="#e00000" stroke="#7a0000" stroke-width="0.5"/>
<circle cx="40.3" cy="232.1" r="1.8" fill="#e00000" stroke="#7a0000" stroke-width="0.5"/>
<circle cx="255.0" cy="232.1" r="1.8" fill="#e00000" stroke="#7a0000" stroke-width="0.5"/>
<circle cx="147.5" cy="125.4" r="1.55" fill="#e00000" stroke="#7a0000" stroke-width="0.5"/>
<text x="141.8" y="127.1" font-size="4.6" text-anchor="middle" class="a" fill="#111" stroke="#111" stroke-width="0.15">5</text>
<text x="43.8" y="13.7" font-size="11" class="s">(a)</text>
<text x="148.6" y="15.6" font-size="10.05" text-anchor="middle" class="s">7-day strength(MPa)</text>
<text x="152.7" y="258.6" font-size="9" text-anchor="middle" class="s"><tspan font-style="italic">X</tspan><tspan font-size="6" dy="1.5">1</tspan><tspan dy="-1.5">:Slurry mass fraction(%)</tspan></text>
<text transform="translate(11.3,132.8) rotate(-90)" font-size="9" text-anchor="middle" class="s"><tspan font-style="italic">X</tspan><tspan font-size="6" dy="1.5">2</tspan><tspan dy="-1.5">:Waste rock content(%)</tspan></text>
<line x1="313.1" y1="145.8" x2="422.0" y2="98.8" stroke="#383838" stroke-width="0.55"/>
<line x1="422.0" y1="98.8" x2="518.7" y2="154.1" stroke="#383838" stroke-width="0.55"/>
<line x1="311.6" y1="126.4" x2="422.0" y2="80.6" stroke="#383838" stroke-width="0.55"/>
<line x1="422.0" y1="80.6" x2="520.3" y2="134.5" stroke="#383838" stroke-width="0.55"/>
<line x1="310.0" y1="107.1" x2="422.1" y2="62.3" stroke="#383838" stroke-width="0.55"/>
<line x1="422.1" y1="62.3" x2="521.9" y2="114.8" stroke="#383838" stroke-width="0.55"/>
<line x1="308.4" y1="87.7" x2="422.1" y2="44.0" stroke="#383838" stroke-width="0.55"/>
<line x1="422.1" y1="44.0" x2="523.6" y2="95.2" stroke="#383838" stroke-width="0.55"/>
<line x1="306.8" y1="68.4" x2="422.1" y2="25.7" stroke="#383838" stroke-width="0.55"/>
<line x1="422.1" y1="25.7" x2="525.2" y2="75.5" stroke="#383838" stroke-width="0.55"/>
<line x1="305.2" y1="49.0" x2="422.1" y2="7.4" stroke="#383838" stroke-width="0.55"/>
<line x1="422.1" y1="7.4" x2="526.8" y2="55.9" stroke="#383838" stroke-width="0.55"/>
<line x1="315.5" y1="174.5" x2="305.2" y2="49.0" stroke="#383838" stroke-width="0.55"/>
<line x1="340.4" y1="134.0" x2="334.4" y2="38.6" stroke="#383838" stroke-width="0.55"/>
<line x1="367.6" y1="122.3" x2="363.6" y2="28.2" stroke="#383838" stroke-width="0.55"/>
<line x1="394.8" y1="110.6" x2="392.9" y2="17.8" stroke="#383838" stroke-width="0.55"/>
<line x1="422.0" y1="98.8" x2="422.1" y2="7.4" stroke="#383838" stroke-width="0.55"/>
<line x1="441.4" y1="109.9" x2="443.0" y2="17.1" stroke="#383838" stroke-width="0.55"/>
<line x1="460.7" y1="121.0" x2="464.0" y2="26.8" stroke="#383838" stroke-width="0.55"/>
<line x1="480.0" y1="132.0" x2="484.9" y2="36.5" stroke="#383838" stroke-width="0.55"/>
<line x1="499.4" y1="143.1" x2="505.9" y2="46.2" stroke="#383838" stroke-width="0.55"/>
<line x1="516.3" y1="183.3" x2="526.8" y2="55.9" stroke="#383838" stroke-width="0.55"/>
<polygon points="315.5,174.5 406.9,245.5 516.3,183.3 422.0,126.0" fill="#636363"/>
<path d="M387.3,230.3 L389.3,230.9 L391.4,231.6 L393.5,232.3 L395.3,232.9 L396.9,233.4 L399.1,234.0 L401.2,234.7 L403.1,235.3 L404.7,235.7 L406.8,236.4 L409.0,237.0 L410.8,237.5 L412.5,238.0 L414.7,238.6 L416.8,239.2 L417.6,239.4" fill="none" stroke="#00c8ed" stroke-width="1.35"/>
<path d="M360.3,209.3 L362.2,210.1 L364.1,210.9 L366.0,211.6 L368.0,212.4 L369.9,213.2 L371.8,213.9 L373.8,214.7 L375.8,215.4 L377.7,216.2 L379.7,216.9 L381.7,217.7 L383.7,218.4 L385.7,219.1 L387.5,219.7 L389.2,220.3 L391.1,221.0 L393.1,221.7 L395.1,222.4 L397.2,223.0 L399.2,223.7 L400.8,224.2 L402.7,224.8 L404.8,225.5 L406.8,226.1 L408.9,226.7 L410.4,227.2 L412.4,227.8 L414.5,228.4 L416.7,229.1 L418.3,229.5 L420.2,230.1 L422.3,230.7 L424.4,231.3 L425.9,231.7 L428.1,232.2 L429.5,232.6" fill="none" stroke="#00edd0" stroke-width="1.35"/>
<path d="M320.5,172.2 L322.4,173.6 L324.3,175.0 L326.3,176.3 L327.8,177.3 L329.8,178.6 L331.8,179.9 L333.4,180.9 L335.5,182.2 L337.0,183.1 L339.2,184.4 L340.8,185.3 L343.0,186.6 L344.6,187.5 L346.8,188.7 L348.5,189.6 L350.2,190.5 L352.5,191.7 L354.2,192.6 L356.0,193.4 L357.7,194.3 L360.0,195.4 L361.8,196.3 L363.6,197.1 L365.4,197.9 L367.2,198.8 L369.4,199.7 L371.5,200.7 L373.3,201.5 L375.2,202.3 L377.0,203.0 L378.9,203.8 L380.8,204.6 L382.7,205.4 L384.6,206.1 L386.5,206.9 L388.4,207.6 L390.3,208.4 L392.3,209.1 L394.2,209.8 L396.2,210.5 L398.2,211.3 L400.1,212.0 L402.1,212.7 L404.1,213.3 L405.8,213.9 L407.5,214.5 L409.5,215.2 L411.5,215.8 L413.6,216.5 L415.6,217.1 L417.6,217.8 L419.3,218.3 L421.1,218.8 L423.2,219.5 L425.3,220.1 L427.4,220.7 L429.0,221.1 L430.9,221.7 L433.0,222.3 L435.2,222.9 L436.8,223.3 L438.7,223.8 L440.9,224.4 L442.9,224.9 L443.1,224.9" fill="none" stroke="#00ed8d" stroke-width="1.35"/>
<path d="M344.6,161.2 L345.6,162.4 L346.9,164.0 L348.0,165.2 L349.1,166.3 L350.7,167.8 L352.0,169.0 L353.6,170.3 L355.3,171.7 L357.0,173.1 L358.9,174.5 L360.7,175.8 L362.7,177.1 L364.6,178.4 L366.6,179.7 L368.1,180.6 L370.2,181.9 L371.9,182.9 L373.9,184.0 L375.8,185.1 L377.6,186.1 L379.3,187.0 L381.5,188.1 L383.2,189.0 L385.3,190.0 L387.2,190.9 L388.9,191.8 L390.7,192.6 L393.0,193.7 L394.8,194.5 L396.6,195.3 L398.4,196.0 L400.3,196.8 L402.2,197.6 L404.3,198.5 L406.4,199.3 L408.3,200.1 L410.2,200.8 L412.1,201.5 L414.0,202.2 L416.0,202.9 L417.9,203.6 L419.9,204.3 L421.8,205.0 L423.8,205.7 L425.6,206.3 L427.4,206.9 L429.2,207.5 L431.1,208.1 L433.1,208.7 L435.2,209.3 L437.2,210.0 L439.3,210.6 L441.1,211.1 L442.7,211.6 L444.8,212.2 L446.9,212.7 L449.0,213.3 L450.8,213.8 L452.6,214.2 L454.7,214.8 L456.9,215.3 L458.6,215.8 L459.0,215.9" fill="none" stroke="#00ed4a" stroke-width="1.35"/>
<path d="M450.5,143.3 L448.6,143.5 L446.3,143.7 L444.5,143.9 L442.3,144.2 L440.2,144.5 L438.4,144.7 L436.1,145.1 L433.9,145.5 L432.2,145.8 L430.2,146.2 L428.1,146.6 L426.0,147.1 L423.9,147.7 L421.4,148.4 L419.6,149.0 L417.2,149.9 L415.5,150.6 L413.6,151.6 L412.0,152.5 L410.3,153.7 L409.0,154.8 L408.1,155.8 L407.4,156.8 L406.7,158.1 L406.3,159.2 L406.1,160.3 L406.0,161.5 L406.1,162.7 L406.4,163.6 L406.8,165.0 L407.4,166.1 L408.0,167.2 L408.8,168.4 L409.9,169.7 L411.1,171.1 L412.2,172.2 L413.8,173.6 L415.0,174.6 L416.8,176.0 L418.6,177.3 L420.4,178.5 L422.4,179.7 L424.4,180.9 L425.9,181.8 L428.0,183.0 L429.7,183.8 L431.8,184.9 L433.5,185.7 L435.7,186.8 L437.4,187.5 L439.2,188.3 L441.5,189.3 L443.3,190.0 L445.2,190.7 L447.0,191.4 L448.8,192.1 L450.8,192.9 L452.9,193.6 L454.9,194.3 L456.9,195.0 L458.8,195.6 L460.7,196.2 L462.6,196.8 L464.4,197.4 L466.3,197.9 L468.3,198.5 L470.4,199.1 L472.4,199.6 L474.5,200.2 L476.5,200.7 L478.2,201.1 L480.1,201.6 L482.2,202.1 L482.9,202.3" fill="none" stroke="#00ed00" stroke-width="1.35"/>
<circle cx="313.1" cy="145.8" r="0.8" fill="#111"/>
<text x="309.3" y="143.8" font-size="6.1" text-anchor="end" class="a" fill="#222" stroke="#222" stroke-width="0.1">0.2</text>
<circle cx="311.6" cy="126.4" r="0.8" fill="#111"/>
<text x="307.8" y="124.4" font-size="6.1" text-anchor="end" class="a" fill="#222" stroke="#222" stroke-width="0.1">0.3</text>
<circle cx="310.0" cy="107.1" r="0.8" fill="#111"/>
<text x="306.2" y="105.1" font-size="6.1" text-anchor="end" class="a" fill="#222" stroke="#222" stroke-width="0.1">0.4</text>
<circle cx="308.4" cy="87.7" r="0.8" fill="#111"/>
<text x="304.6" y="85.7" font-size="6.1" text-anchor="end" class="a" fill="#222" stroke="#222" stroke-width="0.1">0.5</text>
<circle cx="306.8" cy="68.4" r="0.8" fill="#111"/>
<text x="303.0" y="66.4" font-size="6.1" text-anchor="end" class="a" fill="#222" stroke="#222" stroke-width="0.1">0.6</text>
<circle cx="305.2" cy="49.0" r="0.8" fill="#111"/>
<text x="301.4" y="47.0" font-size="6.1" text-anchor="end" class="a" fill="#222" stroke="#222" stroke-width="0.1">0.7</text>
<circle cx="315.5" cy="174.5" r="0.8" fill="#111"/>
<text x="309.2" y="182.3" font-size="6.4" text-anchor="middle" class="a" fill="#222" stroke="#222" stroke-width="0.1">40</text>
<circle cx="333.8" cy="188.7" r="0.8" fill="#111"/>
<text x="327.5" y="196.5" font-size="6.4" text-anchor="middle" class="a" fill="#222" stroke="#222" stroke-width="0.1">38</text>
<circle cx="352.1" cy="202.9" r="0.8" fill="#111"/>
<text x="345.8" y="210.7" font-size="6.4" text-anchor="middle" class="a" fill="#222" stroke="#222" stroke-width="0.1">36</text>
<circle cx="370.3" cy="217.1" r="0.8" fill="#111"/>
<text x="364.0" y="224.9" font-size="6.4" text-anchor="middle" class="a" fill="#222" stroke="#222" stroke-width="0.1">34</text>
<circle cx="388.6" cy="231.3" r="0.8" fill="#111"/>
<text x="382.3" y="239.1" font-size="6.4" text-anchor="middle" class="a" fill="#222" stroke="#222" stroke-width="0.1">32</text>
<circle cx="406.9" cy="245.5" r="0.8" fill="#111"/>
<text x="400.6" y="253.3" font-size="6.4" text-anchor="middle" class="a" fill="#222" stroke="#222" stroke-width="0.1">30</text>
<circle cx="406.9" cy="245.5" r="0.8" fill="#111"/>
<text x="414.4" y="253.5" font-size="6.4" text-anchor="middle" class="a" fill="#222" stroke="#222" stroke-width="0.1">56</text>
<circle cx="434.2" cy="229.9" r="0.8" fill="#111"/>
<text x="441.7" y="237.9" font-size="6.4" text-anchor="middle" class="a" fill="#222" stroke="#222" stroke-width="0.1">57</text>
<circle cx="461.6" cy="214.4" r="0.8" fill="#111"/>
<text x="469.1" y="222.4" font-size="6.4" text-anchor="middle" class="a" fill="#222" stroke="#222" stroke-width="0.1">58</text>
<circle cx="488.9" cy="198.9" r="0.8" fill="#111"/>
<text x="496.4" y="206.9" font-size="6.4" text-anchor="middle" class="a" fill="#222" stroke="#222" stroke-width="0.1">59</text>
<circle cx="516.3" cy="183.3" r="0.8" fill="#111"/>
<text x="523.8" y="191.3" font-size="6.4" text-anchor="middle" class="a" fill="#222" stroke="#222" stroke-width="0.1">60</text>
<g stroke="#0a3a1a" stroke-width="0.45" stroke-linejoin="round"><polygon points="421.0,66.4 426.6,64.6 421.6,62.8 416.0,64.5" fill="#00e377"/><polygon points="415.4,68.3 421.0,66.4 416.0,64.5 410.5,66.3" fill="#00e572"/><polygon points="426.0,68.4 431.6,66.5 426.6,64.6 421.0,66.4" fill="#00e46f"/><polygon points="409.8,70.2 415.4,68.3 410.5,66.3 404.9,68.2" fill="#00e76d"/><polygon points="420.4,70.3 426.0,68.4 421.0,66.4 415.4,68.3" fill="#00e66a"/><polygon points="431.0,70.4 436.6,68.5 431.6,66.5 426.0,68.4" fill="#00e666"/><polygon points="404.3,72.3 409.8,70.2 404.9,68.2 399.3,70.1" fill="#00e86a"/><polygon points="414.8,72.3 420.4,70.3 415.4,68.3 409.8,70.2" fill="#00e866"/><polygon points="425.4,72.4 431.0,70.4 426.0,68.4 420.4,70.3" fill="#00e762"/><polygon points="436.0,72.4 441.6,70.4 436.6,68.5 431.0,70.4" fill="#00e75f"/><polygon points="409.2,74.5 414.8,72.3 409.8,70.2 404.3,72.3" fill="#00e963"/><polygon points="419.8,74.5 425.4,72.4 420.4,70.3 414.8,72.3" fill="#00e95e"/><polygon points="430.4,74.5 436.0,72.4 431.0,70.4 425.4,72.4" fill="#00e85b"/><polygon points="398.7,74.4 404.3,72.3 399.3,70.1 393.7,72.2" fill="#00ea67"/><polygon points="441.0,74.5 446.6,72.5 441.6,70.4 436.0,72.4" fill="#00e857"/><polygon points="414.2,76.7 419.8,74.5 414.8,72.3 409.2,74.5" fill="#00ea5c"/><polygon points="424.8,76.7 430.4,74.5 425.4,72.4 419.8,74.5" fill="#00ea56"/><polygon points="393.1,76.7 398.7,74.4 393.7,72.2 388.1,74.4" fill="#00eb66"/><polygon points="403.6,76.7 409.2,74.5 404.3,72.3 398.7,74.4" fill="#00eb61"/><polygon points="435.4,76.7 441.0,74.5 436.0,72.4 430.4,74.5" fill="#00e950"/><polygon points="446.0,76.7 451.6,74.5 446.6,72.5 441.0,74.5" fill="#00e94b"/><polygon points="387.5,79.0 393.1,76.7 388.1,74.4 382.5,76.6" fill="#00ed66"/><polygon points="398.0,79.0 403.6,76.7 398.7,74.4 393.1,76.7" fill="#00ec60"/><polygon points="408.6,79.0 414.2,76.7 409.2,74.5 403.6,76.7" fill="#00ec5a"/><polygon points="419.2,79.0 424.8,76.7 419.8,74.5 414.2,76.7" fill="#00eb52"/><polygon points="429.8,78.9 435.4,76.7 430.4,74.5 424.8,76.7" fill="#00eb4b"/><polygon points="440.4,78.9 446.0,76.7 441.0,74.5 435.4,76.7" fill="#00ea45"/><polygon points="451.0,78.9 456.7,76.7 451.6,74.5 446.0,76.7" fill="#00ea3f"/><polygon points="381.9,81.4 387.5,79.0 382.5,76.6 377.0,79.0" fill="#00ee67"/><polygon points="392.4,81.4 398.0,79.0 393.1,76.7 387.5,79.0" fill="#00ee60"/><polygon points="403.0,81.4 408.6,79.0 403.6,76.7 398.0,79.0" fill="#00ed5a"/><polygon points="413.6,81.3 419.2,79.0 414.2,76.7 408.6,79.0" fill="#00ed50"/><polygon points="424.2,81.3 429.8,78.9 424.8,76.7 419.2,79.0" fill="#00ec48"/><polygon points="434.8,81.2 440.4,78.9 435.4,76.7 429.8,78.9" fill="#00ec41"/><polygon points="445.4,81.2 451.0,78.9 446.0,76.7 440.4,78.9" fill="#00eb3a"/><polygon points="456.0,81.1 461.7,78.8 456.7,76.7 451.0,78.9" fill="#00eb35"/><polygon points="376.3,83.9 381.9,81.4 377.0,79.0 371.4,81.4" fill="#00f068"/><polygon points="386.8,83.9 392.4,81.4 387.5,79.0 381.9,81.4" fill="#00f061"/><polygon points="397.4,83.9 403.0,81.4 398.0,79.0 392.4,81.4" fill="#00ef5b"/><polygon points="407.9,83.8 413.6,81.3 408.6,79.0 403.0,81.4" fill="#00ef50"/><polygon points="418.5,83.7 424.2,81.3 419.2,79.0 413.6,81.3" fill="#00ee47"/><polygon points="429.1,83.7 434.8,81.2 429.8,78.9 424.2,81.3" fill="#00ee3e"/><polygon points="439.8,83.6 445.4,81.2 440.4,78.9 434.8,81.2" fill="#00ed37"/><polygon points="450.4,83.5 456.0,81.1 451.0,78.9 445.4,81.2" fill="#00ed31"/><polygon points="461.1,83.4 466.7,81.0 461.7,78.8 456.0,81.1" fill="#00ec2c"/><polygon points="381.2,86.5 386.8,83.9 381.9,81.4 376.3,83.9" fill="#00f164"/><polygon points="391.8,86.4 397.4,83.9 392.4,81.4 386.8,83.9" fill="#00f15d"/><polygon points="402.3,86.4 407.9,83.8 403.0,81.4 397.4,83.9" fill="#00f052"/><polygon points="434.1,86.1 439.8,83.6 434.8,81.2 429.1,83.7" fill="#00ef36"/><polygon points="444.8,86.0 450.4,83.5 445.4,81.2 439.8,83.6" fill="#00ee2f"/><polygon points="455.4,85.9 461.1,83.4 456.0,81.1 450.4,83.5" fill="#00ee28"/><polygon points="370.7,86.6 376.3,83.9 371.4,81.4 365.8,84.0" fill="#00f26c"/><polygon points="412.9,86.3 418.5,83.7 413.6,81.3 407.9,83.8" fill="#00f048"/><polygon points="423.5,86.2 429.1,83.7 424.2,81.3 418.5,83.7" fill="#00ef3e"/><polygon points="466.1,85.7 471.7,83.3 466.7,81.0 461.1,83.4" fill="#00ed23"/><polygon points="386.2,89.1 391.8,86.4 386.8,83.9 381.2,86.5" fill="#00f260"/><polygon points="396.7,89.0 402.3,86.4 397.4,83.9 391.8,86.4" fill="#00f256"/><polygon points="439.1,88.6 444.8,86.0 439.8,83.6 434.1,86.1" fill="#00f02e"/><polygon points="449.8,88.4 455.4,85.9 450.4,83.5 444.8,86.0" fill="#00ef27"/><polygon points="365.2,89.3 370.7,86.6 365.8,84.0 360.3,86.6" fill="#00f370"/><polygon points="375.7,89.2 381.2,86.5 376.3,83.9 370.7,86.6" fill="#00f367"/><polygon points="407.3,88.9 412.9,86.3 407.9,83.8 402.3,86.4" fill="#00f14a"/><polygon points="417.9,88.8 423.5,86.2 418.5,83.7 412.9,86.3" fill="#00f140"/><polygon points="428.5,88.7 434.1,86.1 429.1,83.7 423.5,86.2" fill="#00f037"/><polygon points="460.4,88.3 466.1,85.7 461.1,83.4 455.4,85.9" fill="#00ef21"/><polygon points="471.1,88.1 476.8,85.6 471.7,83.3 466.1,85.7" fill="#00ee1b"/><polygon points="391.1,91.8 396.7,89.0 391.8,86.4 386.2,89.1" fill="#00f35c"/><polygon points="444.1,91.1 449.8,88.4 444.8,86.0 439.1,88.6" fill="#00f128"/><polygon points="380.6,91.9 386.2,89.1 381.2,86.5 375.7,89.2" fill="#00f464"/><polygon points="401.7,91.7 407.3,88.9 402.3,86.4 396.7,89.0" fill="#00f34f"/><polygon points="412.3,91.5 417.9,88.8 412.9,86.3 407.3,88.9" fill="#00f244"/><polygon points="422.9,91.4 428.5,88.7 423.5,86.2 417.9,88.8" fill="#00f239"/><polygon points="433.5,91.2 439.1,88.6 434.1,86.1 428.5,88.7" fill="#00f130"/><polygon points="454.8,90.9 460.4,88.3 455.4,85.9 449.8,88.4" fill="#00f020"/><polygon points="359.6,92.1 365.2,89.3 360.3,86.6 354.7,89.4" fill="#00f575"/><polygon points="370.1,92.0 375.7,89.2 370.7,86.6 365.2,89.3" fill="#00f46c"/><polygon points="465.4,90.7 471.1,88.1 466.1,85.7 460.4,88.3" fill="#00f01a"/><polygon points="476.1,90.5 481.8,87.9 476.8,85.6 471.1,88.1" fill="#00ef15"/><polygon points="354.1,95.0 359.6,92.1 354.7,89.4 349.2,92.2" fill="#00f67c"/><polygon points="364.5,94.9 370.1,92.0 365.2,89.3 359.6,92.1" fill="#00f672"/><polygon points="375.0,94.8 380.6,91.9 375.7,89.2 370.1,92.0" fill="#00f569"/><polygon points="385.5,94.7 391.1,91.8 386.2,89.1 380.6,91.9" fill="#00f561"/><polygon points="396.1,94.5 401.7,91.7 396.7,89.0 391.1,91.8" fill="#00f456"/><polygon points="406.6,94.4 412.3,91.5 407.3,88.9 401.7,91.7" fill="#00f449"/><polygon points="417.2,94.2 422.9,91.4 417.9,88.8 412.3,91.5" fill="#00f33e"/><polygon points="427.8,94.0 433.5,91.2 428.5,88.7 422.9,91.4" fill="#00f333"/><polygon points="438.5,93.8 444.1,91.1 439.1,88.6 433.5,91.2" fill="#00f22a"/><polygon points="449.1,93.6 454.8,90.9 449.8,88.4 444.1,91.1" fill="#00f222"/><polygon points="459.8,93.4 465.4,90.7 460.4,88.3 454.8,90.9" fill="#00f11b"/><polygon points="470.5,93.2 476.1,90.5 471.1,88.1 465.4,90.7" fill="#00f114"/><polygon points="481.2,93.0 486.8,90.3 481.8,87.9 476.1,90.5" fill="#00f00f"/><polygon points="401.0,97.3 406.6,94.4 401.7,91.7 396.1,94.5" fill="#00f551"/><polygon points="411.6,97.1 417.2,94.2 412.3,91.5 406.6,94.4" fill="#00f545"/><polygon points="422.2,96.9 427.8,94.0 422.9,91.4 417.2,94.2" fill="#00f439"/><polygon points="432.8,96.7 438.5,93.8 433.5,91.2 427.8,94.0" fill="#00f42f"/><polygon points="348.5,98.1 354.1,95.0 349.2,92.2 343.6,95.2" fill="#00f884"/><polygon points="359.0,97.9 364.5,94.9 359.6,92.1 354.1,95.0" fill="#00f779"/><polygon points="369.4,97.8 375.0,94.8 370.1,92.0 364.5,94.9" fill="#00f770"/><polygon points="379.9,97.6 385.5,94.7 380.6,91.9 375.0,94.8" fill="#00f667"/><polygon points="390.5,97.5 396.1,94.5 391.1,91.8 385.5,94.7" fill="#00f65e"/><polygon points="443.4,96.5 449.1,93.6 444.1,91.1 438.5,93.8" fill="#00f325"/><polygon points="454.1,96.3 459.8,93.4 454.8,90.9 449.1,93.6" fill="#00f31d"/><polygon points="464.8,96.0 470.5,93.2 465.4,90.7 459.8,93.4" fill="#00f216"/><polygon points="475.5,95.8 481.2,93.0 476.1,90.5 470.5,93.2" fill="#00f210"/><polygon points="486.2,95.6 491.9,92.8 486.8,90.3 481.2,93.0" fill="#00f10a"/><polygon points="353.4,101.0 359.0,97.9 354.1,95.0 348.5,98.1" fill="#00f982"/><polygon points="363.9,100.9 369.4,97.8 364.5,94.9 359.0,97.9" fill="#00f977"/><polygon points="374.3,100.7 379.9,97.6 375.0,94.8 369.4,97.8" fill="#00f86e"/><polygon points="405.9,100.1 411.6,97.1 406.6,94.4 401.0,97.3" fill="#00f74d"/><polygon points="416.5,99.9 422.2,96.9 417.2,94.2 411.6,97.1" fill="#00f641"/><polygon points="427.1,99.7 432.8,96.7 427.8,94.0 422.2,96.9" fill="#00f635"/><polygon points="459.1,98.9 464.8,96.0 459.8,93.4 454.1,96.3" fill="#00f419"/><polygon points="469.8,98.7 475.5,95.8 470.5,93.2 464.8,96.0" fill="#00f412"/><polygon points="480.5,98.4 486.2,95.6 481.2,93.0 475.5,95.8" fill="#00f30c"/><polygon points="343.0,101.2 348.5,98.1 343.6,95.2 338.1,98.2" fill="#00fa8d"/><polygon points="395.4,100.3 401.0,97.3 396.1,94.5 390.5,97.5" fill="#00f75b"/><polygon points="437.8,99.4 443.4,96.5 438.5,93.8 432.8,96.7" fill="#00f52b"/><polygon points="491.2,98.1 496.9,95.3 491.9,92.8 486.2,95.6" fill="#00f307"/><polygon points="384.8,100.5 390.5,97.5 385.5,94.7 379.9,97.6" fill="#00f865"/><polygon points="448.4,99.2 454.1,96.3 449.1,93.6 443.4,96.5" fill="#00f522"/><polygon points="410.9,103.0 416.5,99.9 411.6,97.1 405.9,100.1" fill="#00f84b"/><polygon points="421.5,102.7 427.1,99.7 422.2,96.9 416.5,99.9" fill="#00f73e"/><polygon points="358.3,104.1 363.9,100.9 359.0,97.9 353.4,101.0" fill="#00fa81"/><polygon points="368.8,103.9 374.3,100.7 369.4,97.8 363.9,100.9" fill="#00fa76"/><polygon points="464.1,101.7 469.8,98.7 464.8,96.0 459.1,98.9" fill="#00f517"/><polygon points="474.8,101.4 480.5,98.4 475.5,95.8 469.8,98.7" fill="#00f50f"/><polygon points="347.9,104.2 353.4,101.0 348.5,98.1 343.0,101.2" fill="#00fb8b"/><polygon points="400.3,103.2 405.9,100.1 401.0,97.3 395.4,100.3" fill="#00f858"/><polygon points="432.1,102.5 437.8,99.4 432.8,96.7 427.1,99.7" fill="#00f733"/><polygon points="485.5,101.1 491.2,98.1 486.2,95.6 480.5,98.4" fill="#00f409"/><polygon points="379.3,103.6 384.8,100.5 379.9,97.6 374.3,100.7" fill="#00f96c"/><polygon points="389.8,103.4 395.4,100.3 390.5,97.5 384.8,100.5" fill="#00f963"/><polygon points="442.8,102.2 448.4,99.2 443.4,96.5 437.8,99.4" fill="#00f628"/><polygon points="453.4,101.9 459.1,98.9 454.1,96.3 448.4,99.2" fill="#00f61f"/><polygon points="337.5,104.4 343.0,101.2 338.1,98.2 332.6,101.4" fill="#00fb97"/><polygon points="496.2,100.8 501.9,97.9 496.9,95.3 491.2,98.1" fill="#00f404"/><polygon points="415.8,105.9 421.5,102.7 416.5,99.9 410.9,103.0" fill="#00f949"/><polygon points="363.2,107.1 368.8,103.9 363.9,100.9 358.3,104.1" fill="#00fb80"/><polygon points="469.1,104.4 474.8,101.4 469.8,98.7 464.1,101.7" fill="#00f615"/><polygon points="332.0,107.8 337.5,104.4 332.6,101.4 327.1,104.6" fill="#00fca3"/><polygon points="352.7,107.3 358.3,104.1 353.4,101.0 347.9,104.2" fill="#00fc8b"/><polygon points="405.3,106.1 410.9,103.0 405.9,100.1 400.3,103.2" fill="#00f957"/><polygon points="426.5,105.6 432.1,102.5 427.1,99.7 421.5,102.7" fill="#00f83d"/><polygon points="479.8,104.1 485.5,101.1 480.5,98.4 474.8,101.4" fill="#00f60e"/><polygon points="501.2,103.5 506.9,100.5 501.9,97.9 496.2,100.8" fill="#00f502"/><polygon points="373.7,106.9 379.3,103.6 374.3,100.7 368.8,103.9" fill="#00fb75"/><polygon points="384.2,106.7 389.8,103.4 384.8,100.5 379.3,103.6" fill="#00fa6c"/><polygon points="394.7,106.4 400.3,103.2 395.4,100.3 389.8,103.4" fill="#00fa63"/><polygon points="437.1,105.3 442.8,102.2 437.8,99.4 432.1,102.5" fill="#00f831"/><polygon points="447.7,105.0 453.4,101.9 448.4,99.2 442.8,102.2" fill="#00f727"/><polygon points="458.4,104.7 464.1,101.7 459.1,98.9 453.4,101.9" fill="#00f71d"/><polygon points="342.3,107.6 347.9,104.2 343.0,101.2 337.5,104.4" fill="#00fc96"/><polygon points="490.5,103.8 496.2,100.8 491.2,98.1 485.5,101.1" fill="#00f507"/><polygon points="336.8,111.0 342.3,107.6 337.5,104.4 332.0,107.8" fill="#00fca2"/><polygon points="357.6,110.5 363.2,107.1 358.3,104.1 352.7,107.3" fill="#00fc8b"/><polygon points="410.2,109.1 415.8,105.9 410.9,103.0 405.3,106.1" fill="#00fa56"/><polygon points="420.8,108.9 426.5,105.6 421.5,102.7 415.8,105.9" fill="#00fa49"/><polygon points="474.1,107.3 479.8,104.1 474.8,101.4 469.1,104.4" fill="#00f714"/><polygon points="495.5,106.6 501.2,103.5 496.2,100.8 490.5,103.8" fill="#00f607"/><polygon points="368.1,110.2 373.7,106.9 368.8,103.9 363.2,107.1" fill="#00fc80"/><polygon points="378.6,110.0 384.2,106.7 379.3,103.6 373.7,106.9" fill="#00fc75"/><polygon points="389.1,109.7 394.7,106.4 389.8,103.4 384.2,106.7" fill="#00fb6c"/><polygon points="399.6,109.4 405.3,106.1 400.3,103.2 394.7,106.4" fill="#00fb63"/><polygon points="431.4,108.5 437.1,105.3 432.1,102.5 426.5,105.6" fill="#00f93c"/><polygon points="442.0,108.2 447.7,105.0 442.8,102.2 437.1,105.3" fill="#00f930"/><polygon points="452.7,107.9 458.4,104.7 453.4,101.9 447.7,105.0" fill="#00f826"/><polygon points="463.4,107.6 469.1,104.4 464.1,101.7 458.4,104.7" fill="#00f81d"/><polygon points="326.5,111.2 332.0,107.8 327.1,104.6 321.6,108.0" fill="#00fcae"/><polygon points="347.2,110.7 352.7,107.3 347.9,104.2 342.3,107.6" fill="#00fc96"/><polygon points="484.8,106.9 490.5,103.8 485.5,101.1 479.8,104.1" fill="#00f70d"/><polygon points="506.2,106.2 512.0,103.1 506.9,100.5 501.2,103.5" fill="#00f602"/><polygon points="341.7,114.2 347.2,110.7 342.3,107.6 336.8,111.0" fill="#00fca2"/><polygon points="489.8,109.8 495.5,106.6 490.5,103.8 484.8,106.9" fill="#00f80d"/><polygon points="373.0,113.4 378.6,110.0 373.7,106.9 368.1,110.2" fill="#00fc80"/><polygon points="383.5,113.1 389.1,109.7 384.2,106.7 378.6,110.0" fill="#00fc76"/><polygon points="394.0,112.8 399.6,109.4 394.7,106.4 389.1,109.7" fill="#00fc6c"/><polygon points="404.6,112.5 410.2,109.1 405.3,106.1 399.6,109.4" fill="#00fc63"/><polygon points="425.7,111.9 431.4,108.5 426.5,105.6 420.8,108.9" fill="#00fb49"/><polygon points="436.4,111.5 442.0,108.2 437.1,105.3 431.4,108.5" fill="#00fa3c"/><polygon points="447.0,111.2 452.7,107.9 447.7,105.0 442.0,108.2" fill="#00fa31"/><polygon points="457.7,110.9 463.4,107.6 458.4,104.7 452.7,107.9" fill="#00f926"/><polygon points="331.3,114.5 336.8,111.0 332.0,107.8 326.5,111.2" fill="#00fcae"/><polygon points="352.1,114.0 357.6,110.5 352.7,107.3 347.2,110.7" fill="#00fc96"/><polygon points="362.5,113.7 368.1,110.2 363.2,107.1 357.6,110.5" fill="#00fc8b"/><polygon points="415.1,112.2 420.8,108.9 415.8,105.9 410.2,109.1" fill="#00fb57"/><polygon points="468.4,110.5 474.1,107.3 469.1,104.4 463.4,107.6" fill="#00f91d"/><polygon points="479.1,110.1 484.8,106.9 479.8,104.1 474.1,107.3" fill="#00f815"/><polygon points="500.5,109.4 506.2,106.2 501.2,103.5 495.5,106.6" fill="#00f707"/><polygon points="321.0,114.8 326.5,111.2 321.6,108.0 316.1,111.4" fill="#00fcbb"/><polygon points="511.2,109.0 517.0,105.8 512.0,103.1 506.2,106.2" fill="#00f702"/><polygon points="346.5,117.6 352.1,114.0 347.2,110.7 341.7,114.2" fill="#00fca2"/><polygon points="484.0,113.1 489.8,109.8 484.8,106.9 479.1,110.1" fill="#00fa16"/><polygon points="377.9,116.6 383.5,113.1 378.6,110.0 373.0,113.4" fill="#00fc80"/><polygon points="388.4,116.3 394.0,112.8 389.1,109.7 383.5,113.1" fill="#00fc76"/><polygon points="398.9,116.0 404.6,112.5 399.6,109.4 394.0,112.8" fill="#00fc6d"/><polygon points="430.7,115.0 436.4,111.5 431.4,108.5 425.7,111.9" fill="#00fc4b"/><polygon points="441.3,114.6 447.0,111.2 442.0,108.2 436.4,111.5" fill="#00fc3e"/><polygon points="452.0,114.2 457.7,110.9 452.7,107.9 447.0,111.2" fill="#00fb32"/><polygon points="315.5,118.4 321.0,114.8 316.1,111.4 310.7,115.0" fill="#00fcca"/><polygon points="336.2,117.9 341.7,114.2 336.8,111.0 331.3,114.5" fill="#00fcaf"/><polygon points="367.4,117.0 373.0,113.4 368.1,110.2 362.5,113.7" fill="#00fc8b"/><polygon points="462.6,113.8 468.4,110.5 463.4,107.6 457.7,110.9" fill="#00fb28"/><polygon points="494.8,112.7 500.5,109.4 495.5,106.6 489.8,109.8" fill="#00f90f"/><polygon points="516.2,111.8 522.0,108.6 517.0,105.8 511.2,109.0" fill="#00f804"/><polygon points="409.5,115.7 415.1,112.2 410.2,109.1 404.6,112.5" fill="#00fc64"/><polygon points="420.1,115.3 425.7,111.9 420.8,108.9 415.1,112.2" fill="#00fc58"/><polygon points="325.8,118.1 331.3,114.5 326.5,111.2 321.0,114.8" fill="#00fcbc"/><polygon points="357.0,117.3 362.5,113.7 357.6,110.5 352.1,114.0" fill="#00fc97"/><polygon points="473.3,113.5 479.1,110.1 474.1,107.3 468.4,110.5" fill="#00fa1f"/><polygon points="505.5,112.3 511.2,109.0 506.2,106.2 500.5,109.4" fill="#00f909"/><polygon points="382.8,119.9 388.4,116.3 383.5,113.1 377.9,116.6" fill="#00fc82"/><polygon points="393.3,119.6 398.9,116.0 394.0,112.8 388.4,116.3" fill="#00fc78"/><polygon points="435.6,118.1 441.3,114.6 436.4,111.5 430.7,115.0" fill="#00fc4d"/><polygon points="446.3,117.7 452.0,114.2 447.0,111.2 441.3,114.6" fill="#00fc41"/><polygon points="320.4,121.9 325.8,118.1 321.0,114.8 315.5,118.4" fill="#00fccb"/><polygon points="341.0,121.3 346.5,117.6 341.7,114.2 336.2,117.9" fill="#00fcb0"/><polygon points="351.4,120.9 357.0,117.3 352.1,114.0 346.5,117.6" fill="#00fca4"/><polygon points="372.3,120.3 377.9,116.6 373.0,113.4 367.4,117.0" fill="#00fc8c"/><polygon points="456.9,117.3 462.6,113.8 457.7,110.9 452.0,114.2" fill="#00fc35"/><polygon points="478.3,116.5 484.0,113.1 479.1,110.1 473.3,113.5" fill="#00fb21"/><polygon points="489.0,116.0 494.8,112.7 489.8,109.8 484.0,113.1" fill="#00fb19"/><polygon points="510.5,115.2 516.2,111.8 511.2,109.0 505.5,112.3" fill="#00fa0b"/><polygon points="403.8,119.2 409.5,115.7 404.6,112.5 398.9,116.0" fill="#00fc6e"/><polygon points="425.0,118.5 430.7,115.0 425.7,111.9 420.1,115.3" fill="#00fc5b"/><polygon points="330.7,121.6 336.2,117.9 331.3,114.5 325.8,118.1" fill="#00fcbd"/><polygon points="361.8,120.6 367.4,117.0 362.5,113.7 357.0,117.3" fill="#00fc98"/><polygon points="414.4,118.8 420.1,115.3 415.1,112.2 409.5,115.7" fill="#00fc65"/><polygon points="467.6,116.9 473.3,113.5 468.4,110.5 462.6,113.8" fill="#00fc2b"/><polygon points="499.7,115.6 505.5,112.3 500.5,109.4 494.8,112.7" fill="#00fa12"/><polygon points="387.7,123.3 393.3,119.6 388.4,116.3 382.8,119.9" fill="#00fc84"/><polygon points="440.6,121.3 446.3,117.7 441.3,114.6 435.6,118.1" fill="#00fc50"/><polygon points="325.2,125.4 330.7,121.6 325.8,118.1 320.4,121.9" fill="#00fccc"/><polygon points="356.3,124.4 361.8,120.6 357.0,117.3 351.4,120.9" fill="#00fca5"/><polygon points="377.2,123.6 382.8,119.9 377.9,116.6 372.3,120.3" fill="#00fc8e"/><polygon points="451.2,120.8 456.9,117.3 452.0,114.2 446.3,117.7" fill="#00fc44"/><polygon points="472.6,120.0 478.3,116.5 473.3,113.5 467.6,116.9" fill="#00fc2e"/><polygon points="504.7,118.6 510.5,115.2 505.5,112.3 499.7,115.6" fill="#00fb15"/><polygon points="398.2,122.9 403.8,119.2 398.9,116.0 393.3,119.6" fill="#00fc79"/><polygon points="429.9,121.7 435.6,118.1 430.7,115.0 425.0,118.5" fill="#00fc5e"/><polygon points="335.5,125.1 341.0,121.3 336.2,117.9 330.7,121.6" fill="#00fcbf"/><polygon points="345.9,124.7 351.4,120.9 346.5,117.6 341.0,121.3" fill="#00fcb2"/><polygon points="366.7,124.0 372.3,120.3 367.4,117.0 361.8,120.6" fill="#00fc9a"/><polygon points="408.8,122.5 414.4,118.8 409.5,115.7 403.8,119.2" fill="#00fc70"/><polygon points="419.3,122.1 425.0,118.5 420.1,115.3 414.4,118.8" fill="#00fc67"/><polygon points="461.9,120.4 467.6,116.9 462.6,113.8 456.9,117.3" fill="#00fc39"/><polygon points="483.3,119.5 489.0,116.0 484.0,113.1 478.3,116.5" fill="#00fc25"/><polygon points="494.0,119.1 499.7,115.6 494.8,112.7 489.0,116.0" fill="#00fc1c"/><polygon points="330.0,129.0 335.5,125.1 330.7,121.6 325.2,125.4" fill="#00fccf"/><polygon points="361.1,127.8 366.7,124.0 361.8,120.6 356.3,124.4" fill="#00fca8"/><polygon points="382.1,127.1 387.7,123.3 382.8,119.9 377.2,123.6" fill="#00fc91"/><polygon points="445.5,124.5 451.2,120.8 446.3,117.7 440.6,121.3" fill="#00fc55"/><polygon points="466.8,123.6 472.6,120.0 467.6,116.9 461.9,120.4" fill="#00fc3d"/><polygon points="499.0,122.2 504.7,118.6 499.7,115.6 494.0,119.1" fill="#00fc21"/><polygon points="392.6,126.6 398.2,122.9 393.3,119.6 387.7,123.3" fill="#00fc86"/><polygon points="434.9,125.0 440.6,121.3 435.6,118.1 429.9,121.7" fill="#00fc61"/><polygon points="350.7,128.2 356.3,124.4 351.4,120.9 345.9,124.7" fill="#00fcb4"/><polygon points="371.6,127.5 377.2,123.6 372.3,120.3 366.7,124.0" fill="#00fc9c"/><polygon points="403.1,126.2 408.8,122.5 403.8,119.2 398.2,122.9" fill="#00fc7c"/><polygon points="413.7,125.8 419.3,122.1 414.4,118.8 408.8,122.5" fill="#00fc73"/><polygon points="424.3,125.4 429.9,121.7 425.0,118.5 419.3,122.1" fill="#00fc6a"/><polygon points="456.2,124.1 461.9,120.4 456.9,117.3 451.2,120.8" fill="#00fc48"/><polygon points="477.5,123.1 483.3,119.5 478.3,116.5 472.6,120.0" fill="#00fc33"/><polygon points="340.4,128.6 345.9,124.7 341.0,121.3 335.5,125.1" fill="#00fcc1"/><polygon points="488.2,122.7 494.0,119.1 489.0,116.0 483.3,119.5" fill="#00fc29"/><polygon points="366.0,131.4 371.6,127.5 366.7,124.0 361.1,127.8" fill="#00fcab"/><polygon points="461.1,127.3 466.8,123.6 461.9,120.4 456.2,124.1" fill="#00fc4e"/><polygon points="334.9,132.6 340.4,128.6 335.5,125.1 330.0,129.0" fill="#00fcd2"/><polygon points="355.6,131.8 361.1,127.8 356.3,124.4 350.7,128.2" fill="#00fcb7"/><polygon points="376.5,131.0 382.1,127.1 377.2,123.6 371.6,127.5" fill="#00fc9f"/><polygon points="386.9,130.5 392.6,126.6 387.7,123.3 382.1,127.1" fill="#00fc94"/><polygon points="397.5,130.1 403.1,126.2 398.2,122.9 392.6,126.6" fill="#00fc89"/><polygon points="408.0,129.6 413.7,125.8 408.8,122.5 403.1,126.2" fill="#00fc7f"/><polygon points="418.6,129.2 424.3,125.4 419.3,122.1 413.7,125.8" fill="#00fc76"/><polygon points="429.2,128.7 434.9,125.0 429.9,121.7 424.3,125.4" fill="#00fc6d"/><polygon points="439.8,128.3 445.5,124.5 440.6,121.3 434.9,125.0" fill="#00fc65"/><polygon points="450.4,127.8 456.2,124.1 451.2,120.8 445.5,124.5" fill="#00fc5b"/><polygon points="471.8,126.8 477.5,123.1 472.6,120.0 466.8,123.6" fill="#00fc43"/><polygon points="493.2,125.8 499.0,122.2 494.0,119.1 488.2,122.7" fill="#00fc2f"/><polygon points="345.2,132.2 350.7,128.2 345.9,124.7 340.4,128.6" fill="#00fcc4"/><polygon points="482.5,126.3 488.2,122.7 483.3,119.5 477.5,123.1" fill="#00fc38"/><polygon points="370.9,135.0 376.5,131.0 371.6,127.5 366.0,131.4" fill="#00fcae"/><polygon points="455.4,131.2 461.1,127.3 456.2,124.1 450.4,127.8" fill="#00fc61"/><polygon points="339.7,136.3 345.2,132.2 340.4,128.6 334.9,132.6" fill="#00fcd5"/><polygon points="360.4,135.4 366.0,131.4 361.1,127.8 355.6,131.8" fill="#00fcbb"/><polygon points="402.4,133.6 408.0,129.6 403.1,126.2 397.5,130.1" fill="#00fc8d"/><polygon points="412.9,133.1 418.6,129.2 413.7,125.8 408.0,129.6" fill="#00fc83"/><polygon points="423.5,132.6 429.2,128.7 424.3,125.4 418.6,129.2" fill="#00fc79"/><polygon points="466.0,130.6 471.8,126.8 466.8,123.6 461.1,127.3" fill="#00fc55"/><polygon points="487.4,129.6 493.2,125.8 488.2,122.7 482.5,126.3" fill="#00fc3f"/><polygon points="391.8,134.1 397.5,130.1 392.6,126.6 386.9,130.5" fill="#00fc97"/><polygon points="434.1,132.2 439.8,128.3 434.9,125.0 429.2,128.7" fill="#00fc71"/><polygon points="350.1,135.8 355.6,131.8 350.7,128.2 345.2,132.2" fill="#00fcc8"/><polygon points="381.3,134.5 386.9,130.5 382.1,127.1 376.5,131.0" fill="#00fca3"/><polygon points="444.7,131.7 450.4,127.8 445.5,124.5 439.8,128.3" fill="#00fc68"/><polygon points="476.7,130.1 482.5,126.3 477.5,123.1 471.8,126.8" fill="#00fc49"/><polygon points="344.5,140.0 350.1,135.8 345.2,132.2 339.7,136.3" fill="#00fcd9"/><polygon points="365.3,139.1 370.9,135.0 366.0,131.4 360.4,135.4" fill="#00fcbf"/><polygon points="375.7,138.6 381.3,134.5 376.5,131.0 370.9,135.0" fill="#00fcb3"/><polygon points="396.7,137.6 402.4,133.6 397.5,130.1 391.8,134.1" fill="#00fc9c"/><polygon points="407.2,137.1 412.9,133.1 408.0,129.6 402.4,133.6" fill="#00fc91"/><polygon points="417.8,136.6 423.5,132.6 418.6,129.2 412.9,133.1" fill="#00fc87"/><polygon points="428.4,136.1 434.1,132.2 429.2,128.7 423.5,132.6" fill="#00fc7e"/><polygon points="449.6,135.1 455.4,131.2 450.4,127.8 444.7,131.7" fill="#00fc6d"/><polygon points="460.3,134.6 466.0,130.6 461.1,127.3 455.4,131.2" fill="#00fc65"/><polygon points="481.6,133.5 487.4,129.6 482.5,126.3 476.7,130.1" fill="#00fc51"/><polygon points="354.9,139.6 360.4,135.4 355.6,131.8 350.1,135.8" fill="#00fccc"/><polygon points="471.0,134.0 476.7,130.1 471.8,126.8 466.0,130.6" fill="#00fc5d"/><polygon points="386.2,138.1 391.8,134.1 386.9,130.5 381.3,134.5" fill="#00fca7"/><polygon points="439.0,135.6 444.7,131.7 439.8,128.3 434.1,132.2" fill="#00fc75"/><polygon points="349.4,143.8 354.9,139.6 350.1,135.8 344.5,140.0" fill="#00fcde"/><polygon points="412.1,140.8 417.8,136.6 412.9,133.1 407.2,137.1" fill="#00fc96"/><polygon points="475.9,137.5 481.6,133.5 476.7,130.1 471.0,134.0" fill="#00fc63"/><polygon points="359.7,143.3 365.3,139.1 360.4,135.4 354.9,139.6" fill="#00fcd1"/><polygon points="370.1,142.8 375.7,138.6 370.9,135.0 365.3,139.1" fill="#00fcc4"/><polygon points="380.6,142.3 386.2,138.1 381.3,134.5 375.7,138.6" fill="#00fcb8"/><polygon points="391.1,141.8 396.7,137.6 391.8,134.1 386.2,138.1" fill="#00fcac"/><polygon points="401.6,141.3 407.2,137.1 402.4,133.6 396.7,137.6" fill="#00fca1"/><polygon points="422.7,140.2 428.4,136.1 423.5,132.6 417.8,136.6" fill="#00fc8c"/><polygon points="433.3,139.7 439.0,135.6 434.1,132.2 428.4,136.1" fill="#00fc83"/><polygon points="443.9,139.1 449.6,135.1 444.7,131.7 439.0,135.6" fill="#00fc7a"/><polygon points="454.5,138.6 460.3,134.6 455.4,131.2 449.6,135.1" fill="#00fc72"/><polygon points="465.2,138.0 471.0,134.0 466.0,130.6 460.3,134.6" fill="#00fc6a"/><polygon points="354.2,147.7 359.7,143.3 354.9,139.6 349.4,143.8" fill="#00fce4"/><polygon points="385.4,146.1 391.1,141.8 386.2,138.1 380.6,142.3" fill="#00fcbd"/><polygon points="406.4,145.0 412.1,140.8 407.2,137.1 401.6,141.3" fill="#00fca6"/><polygon points="417.0,144.4 422.7,140.2 417.8,136.6 412.1,140.8" fill="#00fc9c"/><polygon points="438.2,143.3 443.9,139.1 439.0,135.6 433.3,139.7" fill="#00fc88"/><polygon points="470.1,141.6 475.9,137.5 471.0,134.0 465.2,138.0" fill="#00fc70"/><polygon points="364.6,147.1 370.1,142.8 365.3,139.1 359.7,143.3" fill="#00fcd6"/><polygon points="375.0,146.6 380.6,142.3 375.7,138.6 370.1,142.8" fill="#00fcc9"/><polygon points="395.9,145.5 401.6,141.3 396.7,137.6 391.1,141.8" fill="#00fcb1"/><polygon points="427.6,143.9 433.3,139.7 428.4,136.1 422.7,140.2" fill="#00fc92"/><polygon points="448.8,142.7 454.5,138.6 449.6,135.1 443.9,139.1" fill="#00fc7f"/><polygon points="459.4,142.1 465.2,138.0 460.3,134.6 454.5,138.6" fill="#00fc77"/><polygon points="359.0,151.6 364.6,147.1 359.7,143.3 354.2,147.7" fill="#00fcea"/><polygon points="379.8,150.5 385.4,146.1 380.6,142.3 375.0,146.6" fill="#00fccf"/><polygon points="390.3,149.9 395.9,145.5 391.1,141.8 385.4,146.1" fill="#00fcc3"/><polygon points="400.8,149.3 406.4,145.0 401.6,141.3 395.9,145.5" fill="#00fcb7"/><polygon points="411.3,148.7 417.0,144.4 412.1,140.8 406.4,145.0" fill="#00fcac"/><polygon points="421.9,148.2 427.6,143.9 422.7,140.2 417.0,144.4" fill="#00fca2"/><polygon points="432.4,147.6 438.2,143.3 433.3,139.7 427.6,143.9" fill="#00fc98"/><polygon points="443.0,147.0 448.8,142.7 443.9,139.1 438.2,143.3" fill="#00fc8e"/><polygon points="464.3,145.7 470.1,141.6 465.2,138.0 459.4,142.1" fill="#00fc7e"/><polygon points="369.4,151.0 375.0,146.6 370.1,142.8 364.6,147.1" fill="#00fcdc"/><polygon points="453.7,146.4 459.4,142.1 454.5,138.6 448.8,142.7" fill="#00fc86"/><polygon points="395.1,153.8 400.8,149.3 395.9,145.5 390.3,149.9" fill="#00fcca"/><polygon points="426.7,151.9 432.4,147.6 427.6,143.9 421.9,148.2" fill="#00fca9"/><polygon points="363.8,155.5 369.4,151.0 364.6,147.1 359.0,151.6" fill="#00fcf0"/><polygon points="374.2,154.9 379.8,150.5 375.0,146.6 369.4,151.0" fill="#00fce3"/><polygon points="384.7,154.4 390.3,149.9 385.4,146.1 379.8,150.5" fill="#00fcd6"/><polygon points="405.6,153.2 411.3,148.7 406.4,145.0 400.8,149.3" fill="#00fcbe"/><polygon points="416.2,152.6 421.9,148.2 417.0,144.4 411.3,148.7" fill="#00fcb3"/><polygon points="437.3,151.3 443.0,147.0 438.2,143.3 432.4,147.6" fill="#00fc9f"/><polygon points="447.9,150.7 453.7,146.4 448.8,142.7 443.0,147.0" fill="#00fc95"/><polygon points="458.6,150.1 464.3,145.7 459.4,142.1 453.7,146.4" fill="#00fc8d"/><polygon points="368.6,159.6 374.2,154.9 369.4,151.0 363.8,155.5" fill="#00fcf7"/><polygon points="389.5,158.3 395.1,153.8 390.3,149.9 384.7,154.4" fill="#00fcdd"/><polygon points="400.0,157.7 405.6,153.2 400.8,149.3 395.1,153.8" fill="#00fcd1"/><polygon points="421.0,156.4 426.7,151.9 421.9,148.2 416.2,152.6" fill="#00fcba"/><polygon points="431.6,155.8 437.3,151.3 432.4,147.6 426.7,151.9" fill="#00fcb0"/><polygon points="452.8,154.5 458.6,150.1 453.7,146.4 447.9,150.7" fill="#00fc9d"/><polygon points="379.0,158.9 384.7,154.4 379.8,150.5 374.2,154.9" fill="#00fcea"/><polygon points="410.5,157.1 416.2,152.6 411.3,148.7 405.6,153.2" fill="#00fcc5"/><polygon points="442.2,155.1 447.9,150.7 443.0,147.0 437.3,151.3" fill="#00fca6"/><polygon points="373.4,163.6 379.0,158.9 374.2,154.9 368.6,159.6" fill="#00fbfc"/><polygon points="383.9,163.0 389.5,158.3 384.7,154.4 379.0,158.9" fill="#00fcf2"/><polygon points="394.3,162.3 400.0,157.7 395.1,153.8 389.5,158.3" fill="#00fce5"/><polygon points="404.8,161.7 410.5,157.1 405.6,153.2 400.0,157.7" fill="#00fcd9"/><polygon points="415.3,161.0 421.0,156.4 416.2,152.6 410.5,157.1" fill="#00fccd"/><polygon points="425.8,160.4 431.6,155.8 426.7,151.9 421.0,156.4" fill="#00fcc2"/><polygon points="436.4,159.7 442.2,155.1 437.3,151.3 431.6,155.8" fill="#00fcb8"/><polygon points="447.0,159.0 452.8,154.5 447.9,150.7 442.2,155.1" fill="#00fcae"/><polygon points="378.2,167.8 383.9,163.0 379.0,158.9 373.4,163.6" fill="#00f5fc"/><polygon points="409.6,165.7 415.3,161.0 410.5,157.1 404.8,161.7" fill="#00fce1"/><polygon points="441.2,163.6 447.0,159.0 442.2,155.1 436.4,159.7" fill="#00fcc1"/><polygon points="388.7,167.1 394.3,162.3 389.5,158.3 383.9,163.0" fill="#00fcfa"/><polygon points="399.1,166.4 404.8,161.7 400.0,157.7 394.3,162.3" fill="#00fcee"/><polygon points="420.1,165.0 425.8,160.4 421.0,156.4 415.3,161.0" fill="#00fcd6"/><polygon points="430.7,164.4 436.4,159.7 431.6,155.8 425.8,160.4" fill="#00fccb"/><polygon points="383.0,172.0 388.7,167.1 383.9,163.0 378.2,167.8" fill="#00f0fc"/><polygon points="403.9,170.6 409.6,165.7 404.8,161.7 399.1,166.4" fill="#00fcf7"/><polygon points="414.4,169.9 420.1,165.0 415.3,161.0 409.6,165.7" fill="#00fceb"/><polygon points="435.5,168.4 441.2,163.6 436.4,159.7 430.7,164.4" fill="#00fcd4"/><polygon points="393.5,171.3 399.1,166.4 394.3,162.3 388.7,167.1" fill="#00f8fc"/><polygon points="424.9,169.1 430.7,164.4 425.8,160.4 420.1,165.0" fill="#00fcdf"/><polygon points="387.8,176.2 393.5,171.3 388.7,167.1 383.0,172.0" fill="#00e9fc"/><polygon points="398.2,175.5 403.9,170.6 399.1,166.4 393.5,171.3" fill="#00f2fc"/><polygon points="408.7,174.8 414.4,169.9 409.6,165.7 403.9,170.6" fill="#00fafc"/><polygon points="419.2,174.0 424.9,169.1 420.1,165.0 414.4,169.9" fill="#00fcf4"/><polygon points="429.7,173.3 435.5,168.4 430.7,164.4 424.9,169.1" fill="#00fce9"/><polygon points="392.6,180.6 398.2,175.5 393.5,171.3 387.8,176.2" fill="#00e3fc"/><polygon points="424.0,178.3 429.7,173.3 424.9,169.1 419.2,174.0" fill="#00fbfc"/><polygon points="403.0,179.8 408.7,174.8 403.9,170.6 398.2,175.5" fill="#00ebfc"/><polygon points="413.5,179.0 419.2,174.0 414.4,169.9 408.7,174.8" fill="#00f3fc"/><polygon points="397.3,184.9 403.0,179.8 398.2,175.5 392.6,180.6" fill="#00dcfc"/><polygon points="418.3,183.4 424.0,178.3 419.2,174.0 413.5,179.0" fill="#00ecfc"/><polygon points="407.8,184.2 413.5,179.0 408.7,174.8 403.0,179.8" fill="#00e4fc"/><polygon points="402.1,189.4 407.8,184.2 403.0,179.8 397.3,184.9" fill="#00d4fc"/><polygon points="412.5,188.6 418.3,183.4 413.5,179.0 407.8,184.2" fill="#00ddfc"/><polygon points="406.8,193.9 412.5,188.6 407.8,184.2 402.1,189.4" fill="#00cdfc"/></g>
<circle cx="310.2" cy="114.7" r="1.8" fill="#e00000" stroke="#7a0000" stroke-width="0.5"/>
<circle cx="421.6" cy="60.7" r="1.7" fill="#e00000" stroke="#7a0000" stroke-width="0.5"/>
<circle cx="415.0" cy="109.0" r="1.6" fill="#e00000" stroke="#7a0000" stroke-width="0.5"/>
<circle cx="522.3" cy="109.1" r="1.6" fill="#ffd0d0" stroke="#a06060" stroke-width="0.5"/>
<circle cx="406.8" cy="197.3" r="1.6" fill="#ffd0d0" stroke="#a06060" stroke-width="0.5"/>
<text x="300.3" y="22.3" font-size="11.7" class="s">(b)</text>
<text x="277" y="236" font-size="8.3" class="s"><tspan font-style="italic">X</tspan><tspan font-size="5.5" dy="1.5">2</tspan><tspan dy="-1.5">:Waste rock content(%)</tspan></text>
<text x="451.2" y="237.7" font-size="8.3" class="s"><tspan font-style="italic">X</tspan><tspan font-size="5.5" dy="1.5">1</tspan><tspan dy="-1.5">:Slurry mass fraction(%)</tspan></text>
<text transform="translate(286.4,127.2) rotate(-90)" font-size="8.2" text-anchor="middle" class="s">7-day Strength(MPa)</text>
</svg>
</body></html>
